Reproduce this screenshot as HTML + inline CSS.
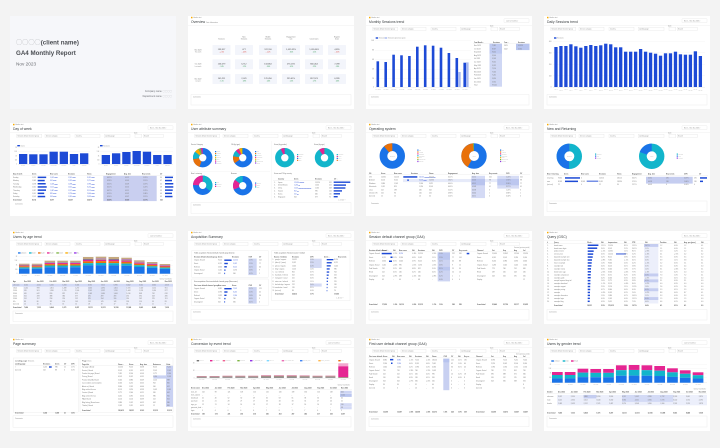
<!DOCTYPE html>
<html><head><meta charset="utf-8">
<style>
html,body{margin:0;padding:0;background:#f3f3f3;width:720px;height:448px;overflow:hidden}
svg{display:block}
text{font-family:"Liberation Sans","Noto Sans CJK JP",sans-serif}
.ti{font-size:3.4px;fill:#3c4043}
.s{font-size:1.6px;fill:#8b8b8b}
.v{font-size:1.6px;fill:#777}
.h{font-size:1.6px;fill:#555;font-weight:bold}
.b{fill:#3f5fd8}
.c{font-family:"Noto Sans CJK JP","Liberation Sans",sans-serif;fill:#b5b7bb;font-weight:normal}
</style></head><body>
<svg width="720" height="448" viewBox="0 0 720 448" xmlns="http://www.w3.org/2000/svg">
<defs>
<g id="fr">
<rect width="166" height="93" fill="#fff"/>
<rect x="3" y="0.8" width="1.5" height="1.5" fill="#f9ab00"/>
<rect x="0" y="9.2" width="166" height=".4" fill="#ebebeb"/>
</g>
<g id="db"><rect x="138" y="2.7" width="25" height="4" rx=".6" fill="#fff" stroke="#e3e3e3" stroke-width=".35"/></g>
<g id="fl" fill="none" stroke="#e2e2e2" stroke-width=".35">
<rect x="6.7" y="11.2" width="25" height="3.4"/>
<rect x="35" y="11.2" width="25" height="3.4"/>
<rect x="65" y="11.2" width="25" height="3.4"/>
<rect x="94.3" y="11.2" width="25.7" height="3.4"/>
<rect x="125" y="11.2" width="6.7" height="3.4"/>
<rect x="133.3" y="11.2" width="20" height="3.4"/>
</g>
<g id="cb"><rect x="3" y="78.5" width="160" height="10.5" fill="none" stroke="#e8e8e8" stroke-width=".4"/></g>
<g id="sbA">
<rect x="0" y="-1" width="1" height=".12" fill="#c5a97f"/>
<rect x="0" y="-.88" width="1" height=".03" fill="#9334e6"/>
<rect x="0" y="-.85" width="1" height=".03" fill="#7cb342"/>
<rect x="0" y="-.82" width="1" height=".08" fill="#e52592"/>
<rect x="0" y="-.74" width="1" height=".11" fill="#e8710a"/>
<rect x="0" y="-.63" width="1" height=".13" fill="#12b5cb"/>
<rect x="0" y="-.50" width="1" height=".50" fill="#1a73e8"/>
</g>
<g id="sbG">
<rect x="0" y="-1" width="1" height=".28" fill="#e52592"/>
<rect x="0" y="-.72" width="1" height=".32" fill="#12b5cb"/>
<rect x="0" y="-.40" width="1" height=".40" fill="#1a73e8"/>
</g>
<g id="sbC">
<rect x="0" y="-1" width="1" height=".3" fill="#d98aa8"/>
<rect x="0" y="-.7" width="1" height=".35" fill="#a1887f"/>
<rect x="0" y="-.35" width="1" height=".35" fill="#8d8d8d"/>
</g>
</defs>
<rect width="720" height="448" fill="#f3f3f3"/>

<!-- Card 1 -->
<g transform="translate(10,16)">
<rect width="166" height="93" fill="#f6f7fa"/>
<text x="6" y="28.3" style="font-size:6.2px;font-weight:bold;fill:#4a4d52"><tspan class="c">○○○○</tspan>(client name)</text>
<text x="6" y="39.2" style="font-size:6.2px;font-weight:bold;fill:#4a4d52">GA4 Monthly Report</text>
<text x="6" y="49.5" style="font-size:4.7px;fill:#6b6e73">Nov 2023</text>
<text x="162" y="76" text-anchor="end" style="font-size:2.4px;fill:#6b6e73">Company name <tspan class="c">○○○○</tspan></text>
<text x="162" y="81" text-anchor="end" style="font-size:2.4px;fill:#6b6e73">Department name <tspan class="c">○○○○</tspan></text>
</g>

<!-- Card 2 Overview -->
<g transform="translate(188,16)">
<use href="#fr"/><use href="#cb"/>
<text x="5.2" y="2.2" class="s">Header text</text>
<text x="3" y="6.8" class="ti">Overview <tspan style="font-size:1.6px;fill:#888">Data Information</tspan></text>
<g text-anchor="middle" class="h" style="font-weight:normal;fill:#555">
<text x="33.5" y="23.3" class="v">Sessions</text>
<text x="56" y="21.6" class="v">New<tspan x="56" dy="1.9">Sessions</tspan></text>
<text x="80" y="21.6" class="v">Mobile<tspan x="80" dy="1.9">Sessions</tspan></text>
<text x="103" y="21.6" class="v">Engagement<tspan x="103" dy="1.9">rate</tspan></text>
<text x="126" y="23.3" class="v">Conversions</text>
<text x="149" y="21.6" class="v">Register<tspan x="149" dy="1.9">Users</tspan></text>
</g>
<g fill="#f3f5fb">
<rect x="24.5" y="29" width="18" height="10" rx=".5"/><rect x="47" y="29" width="18" height="10" rx=".5"/><rect x="71" y="29" width="18" height="10" rx=".5"/><rect x="94" y="29" width="18" height="10" rx=".5"/><rect x="117" y="29" width="18" height="10" rx=".5"/><rect x="140" y="29" width="18" height="10" rx=".5"/>
<rect x="24.5" y="43.3" width="18" height="10" rx=".5"/><rect x="47" y="43.3" width="18" height="10" rx=".5"/><rect x="71" y="43.3" width="18" height="10" rx=".5"/><rect x="94" y="43.3" width="18" height="10" rx=".5"/><rect x="117" y="43.3" width="18" height="10" rx=".5"/><rect x="140" y="43.3" width="18" height="10" rx=".5"/>
<rect x="24.5" y="58" width="18" height="10" rx=".5"/><rect x="47" y="58" width="18" height="10" rx=".5"/><rect x="71" y="58" width="18" height="10" rx=".5"/><rect x="94" y="58" width="18" height="10" rx=".5"/><rect x="117" y="58" width="18" height="10" rx=".5"/><rect x="140" y="58" width="18" height="10" rx=".5"/>
</g>
<g text-anchor="middle" style="font-size:2.1px;fill:#444">
<text y="34.2"><tspan x="33.5">133,817</tspan><tspan x="56">477</tspan><tspan x="80">122,116</tspan><tspan x="103">1,455.32%</tspan><tspan x="126">1,055,863</tspan><tspan x="149">4,855</tspan></text>
<text y="48.5"><tspan x="33.5">156,679</tspan><tspan x="56">6,712</tspan><tspan x="80">134,862</tspan><tspan x="103">276.13%</tspan><tspan x="126">800,464</tspan><tspan x="149">7,098</tspan></text>
<text y="63.2"><tspan x="33.5">145,211</tspan><tspan x="56">2,076</tspan><tspan x="80">176,450</tspan><tspan x="103">235.61%</tspan><tspan x="126">897,523</tspan><tspan x="149">6,289</tspan></text>
</g>
<g text-anchor="middle" style="font-size:1.4px">
<text y="36.6" fill="#d93025"><tspan x="33.5">↓ -2.1%</tspan><tspan x="56">↓ -4.8%</tspan><tspan x="80">↓ -1.2%</tspan><tspan x="103" fill="#1e8e3e">↑ 8.2%</tspan><tspan x="126" fill="#1e8e3e">↑ 5.1%</tspan><tspan x="149">↓ -3.3%</tspan></text>
<text y="50.9" fill="#1e8e3e"><tspan x="33.5">↑ 2.4%</tspan><tspan x="56">↑ 1.2%</tspan><tspan x="80">↑ 3.0%</tspan><tspan x="103">↑ 4.1%</tspan><tspan x="126">↑ 2.2%</tspan><tspan x="149">↑ 1.8%</tspan></text>
<text y="65.6" fill="#1e8e3e"><tspan x="33.5">↑ 1.1%</tspan><tspan x="56">↑ 0.9%</tspan><tspan x="80">↑ 2.6%</tspan><tspan x="103">↑ 1.5%</tspan><tspan x="126">↑ 1.7%</tspan><tspan x="149">↑ 0.6%</tspan></text>
</g>
<g text-anchor="middle">
<text x="10" y="34.4" class="v">Nov 2023</text><text x="10" y="36.5" class="s" style="font-size:1.3px">This month</text>
<text x="10" y="48.7" class="v">Oct 2023</text><text x="10" y="50.8" class="s" style="font-size:1.3px">Last month</text>
<text x="10" y="63.4" class="v">Nov 2022</text><text x="10" y="65.5" class="s" style="font-size:1.3px">Last year</text>
</g>
<text x="5" y="81.3" class="s">Comments</text>
</g>

<!-- Card 3 Monthly sessions trend -->
<g transform="translate(366,16)">
<use href="#fr"/><use href="#db"/><use href="#fl"/><use href="#cb"/>
<text x="5.2" y="2.2" class="s">Header text</text>
<text x="3" y="6.8" class="ti">Monthly Sessions trend</text>
<text x="140" y="5.3" class="s">Last 12 months ▾</text>
<text y="13.4" class="s"><tspan x="7.5">Session default channel group</tspan><tspan x="36">Device category</tspan><tspan x="66">Country</tspan><tspan x="95">Landing page</tspan><tspan x="134">Search</tspan></text>
<text x="124" y="10.6" class="s">Date</text>
<rect x="9.7" y="21.3" width="2.4" height="1.4" fill="#1d4ad6"/><text x="12.8" y="22.6" class="s">Sessions</text>
<rect x="18.7" y="21.3" width="2.4" height="1.4" fill="#a9b9ef"/><text x="21.8" y="22.6" class="s">Sessions (previous year)</text>
<g fill="#eeeeee"><rect x="9" y="24.5" width="96" height=".3"/><rect x="9" y="34" width="96" height=".3"/><rect x="9" y="43.5" width="96" height=".3"/><rect x="9" y="53" width="96" height=".3"/><rect x="9" y="62.5" width="96" height=".3"/><rect x="9" y="71" width="96" height=".35" fill="#dddddd"/></g>
<g text-anchor="end" class="s"><text x="8" y="25.1">10K</text><text x="8" y="34.6">8K</text><text x="8" y="44.1">6K</text><text x="8" y="53.6">4K</text><text x="8" y="63.1">2K</text><text x="8" y="71.6">0</text></g>
<g fill="#1d4ad6">
<rect x="10.5" y="45.3" width="2.6" height="25.7"/><rect x="18.4" y="46" width="2.6" height="25"/><rect x="26.3" y="38.7" width="2.6" height="32.3"/><rect x="34.2" y="39.3" width="2.6" height="31.7"/><rect x="42.1" y="40" width="2.6" height="31"/><rect x="50" y="30.7" width="2.6" height="40.3"/><rect x="57.9" y="29.3" width="2.6" height="41.7"/><rect x="65.8" y="29.7" width="2.6" height="41.3"/><rect x="73.7" y="31.7" width="2.6" height="39.3"/><rect x="81.6" y="37" width="2.6" height="34"/><rect x="89.5" y="42" width="2.6" height="29"/><rect x="97.4" y="46.7" width="2.6" height="24.3"/>
</g>
<rect x="92.1" y="56" width="2.6" height="15" fill="#a9b9ef"/><rect x="100" y="46.4" width="2.6" height="24.6" fill="#a9b9ef"/>
<text y="73.6" text-anchor="middle" class="s" style="font-size:1.2px"><tspan x="12">Dec 2022</tspan><tspan x="19.9">Jan 2023</tspan><tspan x="27.8">Feb 2023</tspan><tspan x="35.7">Mar 2023</tspan><tspan x="43.6">Apr 2023</tspan><tspan x="51.5">May 2023</tspan><tspan x="59.4">Jun 2023</tspan><tspan x="67.3">Jul 2023</tspan><tspan x="75.2">Aug 2023</tspan><tspan x="83.1">Sep 2023</tspan><tspan x="91">Oct 2023</tspan><tspan x="98.9">Nov 2023</tspan></text>
<rect x="123.5" y="27.7" width="12.5" height="43" fill="#cfd7f4"/>
<rect x="123.5" y="27.7" width="12.5" height="9.9" fill="#bfcaf1"/>
<rect x="107" y="27.4" width="29" height=".25" fill="#dddddd"/>
<text y="26.8" class="h"><tspan x="108">Year Month ↓</tspan><tspan x="127">Sessions</tspan></text>
<g class="v">
<text x="108" y="30"><tspan>Nov 2023</tspan><tspan x="126">7,381</tspan></text>
<text x="108" y="33.3"><tspan>Oct 2023</tspan><tspan x="126">8,927</tspan></text>
<text x="108" y="36.6"><tspan>Sep 2023</tspan><tspan x="126">9,612</tspan></text>
<text x="108" y="39.9"><tspan>Aug 2023</tspan><tspan x="126">9,140</tspan></text>
<text x="108" y="43.2"><tspan>Jul 2023</tspan><tspan x="126">9,903</tspan></text>
<text x="108" y="46.5"><tspan>Jun 2023</tspan><tspan x="126">9,551</tspan></text>
<text x="108" y="49.8"><tspan>May 2023</tspan><tspan x="126">9,312</tspan></text>
<text x="108" y="53.1"><tspan>Apr 2023</tspan><tspan x="126">7,150</tspan></text>
<text x="108" y="56.4"><tspan>Mar 2023</tspan><tspan x="126">7,302</tspan></text>
<text x="108" y="59.7"><tspan>Feb 2023</tspan><tspan x="126">7,241</tspan></text>
<text x="108" y="63"><tspan>Jan 2023</tspan><tspan x="126">5,810</tspan></text>
<text x="108" y="66.3"><tspan>Dec 2022</tspan><tspan x="126">5,912</tspan></text>
<text x="108" y="69.6"><tspan>Total</tspan><tspan x="126">97,241</tspan></text>
</g>
<rect x="150" y="27.7" width="13.5" height="6.4" fill="#b8c5ef"/>
<rect x="138" y="27.4" width="25.5" height=".25" fill="#dddddd"/>
<text y="26.8" class="h"><tspan x="138">Year ↓</tspan><tspan x="152">Sessions</tspan></text>
<text y="30" class="v"><tspan x="138">2023</tspan><tspan x="152">91,329</tspan></text>
<text y="33.3" class="v"><tspan x="138">2022</tspan><tspan x="152">5,912</tspan></text>
<text x="5" y="81.3" class="s">Comments</text>
</g>

<!-- Card 4 Daily sessions trend -->
<g transform="translate(544,16)">
<use href="#fr"/><use href="#db"/><use href="#fl"/><use href="#cb"/>
<text x="5.2" y="2.2" class="s">Header text</text>
<text x="3" y="6.8" class="ti">Daily Sessions trend</text>
<text x="140" y="5.3" class="s">Nov 1 - Nov 30, 2023 ▾</text>
<text y="13.4" class="s"><tspan x="7.5">Session default channel group</tspan><tspan x="36">Device category</tspan><tspan x="66">Country</tspan><tspan x="95">Landing page</tspan><tspan x="134">Search</tspan></text>
<text x="124" y="10.6" class="s">Date</text>
<rect x="10" y="21.3" width="2.4" height="1.4" fill="#1d4ad6"/><text x="13.1" y="22.6" class="s">Sessions</text>
<g fill="#eeeeee"><rect x="9" y="25.3" width="152" height=".3"/><rect x="9" y="36.7" width="152" height=".3"/><rect x="9" y="48.2" width="152" height=".3"/><rect x="9" y="59.7" width="152" height=".3"/><rect x="9" y="71" width="152" height=".35" fill="#dddddd"/></g>
<g text-anchor="end" class="s"><text x="7.5" y="25.9">400</text><text x="7.5" y="37.3">300</text><text x="7.5" y="48.8">200</text><text x="7.5" y="60.3">100</text><text x="7.5" y="71.6">0</text></g>
<g fill="#1d4ad6">
<rect x="10.3" y="31" width="3.3" height="40"/><rect x="15.28" y="30" width="3.3" height="41"/><rect x="20.26" y="30" width="3.3" height="41"/><rect x="25.24" y="28.3" width="3.3" height="42.7"/><rect x="30.22" y="30.3" width="3.3" height="40.7"/><rect x="35.2" y="31.7" width="3.3" height="39.3"/><rect x="40.18" y="30" width="3.3" height="41"/><rect x="45.16" y="29" width="3.3" height="42"/><rect x="50.14" y="30" width="3.3" height="41"/><rect x="55.12" y="29.3" width="3.3" height="41.7"/><rect x="60.1" y="27.7" width="3.3" height="43.3"/><rect x="65.08" y="28.3" width="3.3" height="42.7"/><rect x="70.06" y="31.3" width="3.3" height="39.7"/><rect x="75.04" y="31.3" width="3.3" height="39.7"/><rect x="80.02" y="35.7" width="3.3" height="35.3"/><rect x="85" y="35.7" width="3.3" height="35.3"/><rect x="89.98" y="35.7" width="3.3" height="35.3"/><rect x="94.96" y="33" width="3.3" height="38"/><rect x="99.94" y="35.7" width="3.3" height="35.3"/><rect x="104.92" y="36.7" width="3.3" height="34.3"/><rect x="109.9" y="37.7" width="3.3" height="33.3"/><rect x="114.88" y="39.7" width="3.3" height="31.3"/><rect x="119.86" y="37.3" width="3.3" height="33.7"/><rect x="124.84" y="37.3" width="3.3" height="33.7"/><rect x="129.82" y="35.7" width="3.3" height="35.3"/><rect x="134.8" y="38.3" width="3.3" height="32.7"/><rect x="139.78" y="38.7" width="3.3" height="32.3"/><rect x="144.76" y="38.7" width="3.3" height="32.3"/><rect x="149.74" y="35.3" width="3.3" height="35.7"/><rect x="154.72" y="40" width="3.3" height="31"/>
</g>
<text y="73.4" text-anchor="middle" class="s" style="font-size:1.2px"><tspan x="12">Nov 1</tspan><tspan x="21.9">Nov 3</tspan><tspan x="31.9">Nov 5</tspan><tspan x="41.8">Nov 7</tspan><tspan x="51.8">Nov 9</tspan><tspan x="61.8">Nov 11</tspan><tspan x="71.7">Nov 13</tspan><tspan x="81.7">Nov 15</tspan><tspan x="91.6">Nov 17</tspan><tspan x="101.6">Nov 19</tspan><tspan x="111.6">Nov 21</tspan><tspan x="121.5">Nov 23</tspan><tspan x="131.5">Nov 25</tspan><tspan x="141.4">Nov 27</tspan><tspan x="151.4">Nov 29</tspan></text>
<text y="75.1" text-anchor="middle" class="s" style="font-size:1.2px"><tspan x="16.9">Nov 2</tspan><tspan x="26.9">Nov 4</tspan><tspan x="36.9">Nov 6</tspan><tspan x="46.8">Nov 8</tspan><tspan x="56.8">Nov 10</tspan><tspan x="66.7">Nov 12</tspan><tspan x="76.7">Nov 14</tspan><tspan x="86.7">Nov 16</tspan><tspan x="96.6">Nov 18</tspan><tspan x="106.6">Nov 20</tspan><tspan x="116.5">Nov 22</tspan><tspan x="126.5">Nov 24</tspan><tspan x="136.5">Nov 26</tspan><tspan x="146.4">Nov 28</tspan><tspan x="156.4">Nov 30</tspan></text>
<text x="5" y="81.3" class="s">Comments</text>
</g>

<!-- Card 5 Day of week -->
<g transform="translate(10,123)">
<use href="#fr"/><use href="#db"/><use href="#fl"/>
<text x="5.2" y="2.2" class="s">Header text</text>
<text x="3" y="6.8" class="ti">Day of week</text>
<text x="140" y="5.3" class="s">Nov 1 - Nov 30, 2023 ▾</text>
<text y="13.4" class="s"><tspan x="7.5">Session default channel group</tspan><tspan x="36">Device category</tspan><tspan x="66">Country</tspan><tspan x="95">Landing page</tspan><tspan x="134">Search</tspan></text>
<text x="124" y="10.6" class="s">Date</text>
<rect x="7.3" y="22" width="2.6" height="1.4" fill="#1d4ad6"/><text x="10.5" y="23.3" class="s">Users</text>
<rect x="90" y="22" width="2.6" height="1.4" fill="#1d4ad6"/><text x="93.2" y="23.3" class="s">Sessions</text>
<g fill="#eeeeee"><rect x="8" y="24.5" width="72" height=".3"/><rect x="8" y="28.7" width="72" height=".3"/><rect x="8" y="32.8" width="72" height=".3"/><rect x="8" y="37" width="72" height=".3"/><rect x="8" y="41" width="72" height=".35" fill="#dddddd"/>
<rect x="90" y="24.5" width="73" height=".3"/><rect x="90" y="28.7" width="73" height=".3"/><rect x="90" y="32.8" width="73" height=".3"/><rect x="90" y="37" width="73" height=".3"/><rect x="90" y="41" width="73" height=".35" fill="#dddddd"/></g>
<g text-anchor="end" class="s" style="font-size:1.3px"><text x="7" y="25">2K</text><text x="7" y="29.2">1.5K</text><text x="7" y="33.3">1K</text><text x="7" y="37.5">500</text><text x="7" y="41.5">0</text>
<text x="89.3" y="25">2K</text><text x="89.3" y="29.2">1.5K</text><text x="89.3" y="33.3">1K</text><text x="89.3" y="37.5">500</text><text x="89.3" y="41.5">0</text></g>
<g fill="#1d4ad6">
<rect x="9" y="31" width="8.3" height="10"/><rect x="19.17" y="31.3" width="8.3" height="9.7"/><rect x="29.34" y="31.3" width="8.3" height="9.7"/><rect x="39.51" y="28.7" width="8.3" height="12.3"/><rect x="49.68" y="28.7" width="8.3" height="12.3"/><rect x="59.85" y="31" width="8.3" height="10"/><rect x="70.02" y="30.3" width="8.3" height="10.7"/>
<rect x="91.7" y="32" width="8.3" height="9"/><rect x="101.98" y="30.3" width="8.3" height="10.7"/><rect x="112.26" y="29" width="8.3" height="12"/><rect x="122.54" y="28" width="8.3" height="13"/><rect x="132.82" y="28.7" width="8.3" height="12.3"/><rect x="143.1" y="32" width="8.3" height="9"/><rect x="153.38" y="32" width="8.3" height="9"/>
</g>
<text y="43.2" text-anchor="middle" class="s" style="font-size:1.2px"><tspan x="13.15">Sunday</tspan><tspan x="23.32">Monday</tspan><tspan x="33.49">Tuesday</tspan><tspan x="43.66">Wednesday</tspan><tspan x="53.83">Thursday</tspan><tspan x="64">Friday</tspan><tspan x="74.17">Saturday</tspan><tspan x="95.85">Sunday</tspan><tspan x="106.13">Monday</tspan><tspan x="116.41">Tuesday</tspan><tspan x="126.69">Wednesday</tspan><tspan x="136.97">Thursday</tspan><tspan x="147.25">Friday</tspan><tspan x="157.53">Saturday</tspan></text>
<rect x="93.3" y="52.9" width="53.4" height="25.2" fill="#c9cff0"/>
<rect x="2" y="52" width="162" height=".25" fill="#dddddd"/>
<text y="51.3" class="h"><tspan x="3">Day of week</tspan><tspan x="22">Users</tspan><tspan x="40">New users</tspan><tspan x="58">Sessions</tspan><tspan x="77">Views</tspan><tspan x="96">Engagement</tspan><tspan x="114">Avg. time</tspan><tspan x="132">Key events</tspan><tspan x="150">CV</tspan></text>
<g fill="#1d4ad6">
<rect x="27.7" y="53.6" width="8.5" height="1.5"/><rect x="27.7" y="56.8" width="7" height="1.5"/><rect x="27.7" y="60" width="8" height="1.5"/><rect x="27.7" y="63.2" width="9" height="1.5"/><rect x="27.7" y="66.4" width="8.3" height="1.5"/><rect x="27.7" y="69.6" width="6.5" height="1.5"/><rect x="27.7" y="72.8" width="7.5" height="1.5"/>
<rect x="155" y="53.6" width="8" height="1.5"/><rect x="155" y="56.8" width="7" height="1.5"/><rect x="155" y="60" width="8.3" height="1.5"/><rect x="155" y="63.2" width="8.3" height="1.5"/><rect x="155" y="66.4" width="7.7" height="1.5"/><rect x="155" y="69.6" width="7" height="1.5"/><rect x="155" y="72.8" width="7.5" height="1.5"/>
</g>
<g class="v">
<text y="55"><tspan x="3">Sunday</tspan><tspan x="22">1,212</tspan><tspan x="40" class="b">1,012 ▬▬</tspan><tspan x="58" class="b">1,531 ▬▬</tspan><tspan x="77" class="b">3,021 ▬▬</tspan><tspan x="97">64.2%</tspan><tspan x="115">01:12</tspan><tspan x="133">1.21%</tspan><tspan x="150">54</tspan></text>
<text y="58.2"><tspan x="3">Monday</tspan><tspan x="22">1,043</tspan><tspan x="40" class="b">901 ▬▬</tspan><tspan x="58" class="b">1,322 ▬▬</tspan><tspan x="77" class="b">2,711 ▬▬</tspan><tspan x="97">62.8%</tspan><tspan x="115">01:05</tspan><tspan x="133">1.15%</tspan><tspan x="150">47</tspan></text>
<text y="61.4"><tspan x="3">Tuesday</tspan><tspan x="22">1,198</tspan><tspan x="40" class="b">1,003 ▬▬</tspan><tspan x="58" class="b">1,498 ▬▬</tspan><tspan x="77" class="b">2,996 ▬▬</tspan><tspan x="97">63.5%</tspan><tspan x="115">01:09</tspan><tspan x="133">1.19%</tspan><tspan x="150">55</tspan></text>
<text y="64.6"><tspan x="3">Wednesday</tspan><tspan x="22">1,321</tspan><tspan x="40" class="b">1,121 ▬▬</tspan><tspan x="58" class="b">1,612 ▬▬</tspan><tspan x="77" class="b">3,210 ▬▬</tspan><tspan x="97">65.1%</tspan><tspan x="115">01:15</tspan><tspan x="133">1.25%</tspan><tspan x="150">58</tspan></text>
<text y="67.8"><tspan x="3">Thursday</tspan><tspan x="22">1,287</tspan><tspan x="40" class="b">1,087 ▬▬</tspan><tspan x="58" class="b">1,577 ▬▬</tspan><tspan x="77" class="b">3,115 ▬▬</tspan><tspan x="97">64.7%</tspan><tspan x="115">01:11</tspan><tspan x="133">1.22%</tspan><tspan x="150">53</tspan></text>
<text y="71"><tspan x="3">Friday</tspan><tspan x="22">1,011</tspan><tspan x="40" class="b">899 ▬▬</tspan><tspan x="58" class="b">1,276 ▬▬</tspan><tspan x="77" class="b">2,604 ▬▬</tspan><tspan x="97">61.9%</tspan><tspan x="115">01:02</tspan><tspan x="133">1.08%</tspan><tspan x="150">46</tspan></text>
<text y="74.2"><tspan x="3">Saturday</tspan><tspan x="22">1,102</tspan><tspan x="40" class="b">954 ▬▬</tspan><tspan x="58" class="b">1,391 ▬▬</tspan><tspan x="77" class="b">2,813 ▬▬</tspan><tspan x="97">62.4%</tspan><tspan x="115">01:07</tspan><tspan x="133">1.12%</tspan><tspan x="150">49</tspan></text>
<text y="77.4" class="h"><tspan x="3">Grand total</tspan><tspan x="22">8,174</tspan><tspan x="40">6,977</tspan><tspan x="58">10,207</tspan><tspan x="77">20,470</tspan><tspan x="97">63.5%</tspan><tspan x="115">01:09</tspan><tspan x="133">1.17%</tspan><tspan x="150">362</tspan></text>
</g>
<text x="5" y="81.5" class="s">Comments</text>
</g>

<!-- Card 6 User attribute summary -->
<g transform="translate(188,123)">
<use href="#fr"/><use href="#db"/><use href="#fl"/>
<rect x="3" y="79.5" width="160" height="11" fill="none" stroke="#e8e8e8" stroke-width=".4"/>
<text x="5.2" y="2.2" class="s">Header text</text>
<text x="3" y="6.8" class="ti">User attribute summary</text>
<text x="140" y="5.3" class="s">Nov 1 - Nov 30, 2023 ▾</text>
<text y="13.4" class="s"><tspan x="7.5">Session default channel group</tspan><tspan x="36">Device category</tspan><tspan x="66">Country</tspan><tspan x="95">Landing page</tspan><tspan x="134">Search</tspan></text>
<text x="124" y="10.6" class="s">Date</text>
<rect x="83" y="18" width=".3" height="59" fill="#ececec"/>
<rect x="2" y="48.5" width="80" height=".3" fill="#ececec"/>
<text y="22" class="h" style="font-weight:normal;fill:#666"><tspan x="3">Device Category</tspan><tspan x="43">OS (by type)</tspan><tspan x="86">Users (by gender)</tspan><tspan x="126">Users (by age)</tspan></text>
<text y="51" class="h" style="font-weight:normal;fill:#666"><tspan x="3">New / returning</tspan><tspan x="43">Browser</tspan><tspan x="86">Users and CV by country</tspan></text>
<g fill="none" stroke-width="6">
<g transform="rotate(-90 14.7 34.7)">
<circle cx="14.7" cy="34.7" r="6.7" stroke="#1a73e8"/>
<circle cx="14.7" cy="34.7" r="6.7" stroke="#e8710a" stroke-dasharray="7.16 50" stroke-dashoffset="-23.16"/>
<circle cx="14.7" cy="34.7" r="6.7" stroke="#12b5cb" stroke-dasharray="5.47 50" stroke-dashoffset="-30.32"/>
<circle cx="14.7" cy="34.7" r="6.7" stroke="#f9ab00" stroke-dasharray="2.95 50" stroke-dashoffset="-35.79"/>
<circle cx="14.7" cy="34.7" r="6.7" stroke="#7cb342" stroke-dasharray="1.68 50" stroke-dashoffset="-38.74"/>
<circle cx="14.7" cy="34.7" r="6.7" stroke="#e52592" stroke-dasharray="1.68 50" stroke-dashoffset="-40.42"/>
</g>
<g transform="rotate(-90 54.7 34.7)">
<circle cx="54.7" cy="34.7" r="6.7" stroke="#1a73e8"/>
<circle cx="54.7" cy="34.7" r="6.7" stroke="#e8710a" stroke-dasharray="5.05 50" stroke-dashoffset="-27.37"/>
<circle cx="54.7" cy="34.7" r="6.7" stroke="#12b5cb" stroke-dasharray="4.21 50" stroke-dashoffset="-32.42"/>
<circle cx="54.7" cy="34.7" r="6.7" stroke="#e52592" stroke-dasharray="2.53 50" stroke-dashoffset="-36.63"/>
<circle cx="54.7" cy="34.7" r="6.7" stroke="#f9ab00" stroke-dasharray="2.1 50" stroke-dashoffset="-39.16"/>
<circle cx="54.7" cy="34.7" r="6.7" stroke="#7cb342" stroke-dasharray="0.84 50" stroke-dashoffset="-41.26"/>
</g>
<g transform="rotate(-90 96.8 34.7)">
<circle cx="96.8" cy="34.7" r="6.7" stroke="#12b5cb"/>
<circle cx="96.8" cy="34.7" r="6.7" stroke="#e52592" stroke-dasharray="2.9 50" stroke-dashoffset="-38.8"/>
<circle cx="96.8" cy="34.7" r="6.7" stroke="#1a73e8" stroke-dasharray=".42 50" stroke-dashoffset="-41.68"/>
</g>
<g transform="rotate(-90 136.5 34.7)">
<circle cx="136.5" cy="34.7" r="6.7" stroke="#12b5cb"/>
<circle cx="136.5" cy="34.7" r="6.7" stroke="#e52592" stroke-dasharray="3.8 50" stroke-dashoffset="-37.9"/>
<circle cx="136.5" cy="34.7" r="6.7" stroke="#e8710a" stroke-dasharray=".4 50" stroke-dashoffset="-41.7"/>
</g>
<g transform="rotate(-90 14.7 62.3)">
<circle cx="14.7" cy="62.3" r="6.7" stroke="#1a73e8"/>
<circle cx="14.7" cy="62.3" r="6.7" stroke="#12b5cb" stroke-dasharray="14.74 50" stroke-dashoffset="0"/>
<circle cx="14.7" cy="62.3" r="6.7" stroke="#e52592" stroke-dasharray="10.53 50" stroke-dashoffset="-31.58"/>
</g>
<g transform="rotate(-90 54.7 62.7)">
<circle cx="54.7" cy="62.7" r="6.7" stroke="#1a73e8"/>
<circle cx="54.7" cy="62.7" r="6.7" stroke="#e52592" stroke-dasharray="7.16 50" stroke-dashoffset="-28.63"/>
<circle cx="54.7" cy="62.7" r="6.7" stroke="#12b5cb" stroke-dasharray="6.32 50" stroke-dashoffset="-35.79"/>
</g>
</g>
<g>
<rect x="27" y="28" width="1.2" height="1.2" fill="#1a73e8"/><rect x="27" y="29.9" width="1.2" height="1.2" fill="#e8710a"/><rect x="27" y="31.8" width="1.2" height="1.2" fill="#12b5cb"/><rect x="27" y="33.7" width="1.2" height="1.2" fill="#f9ab00"/><rect x="27" y="35.6" width="1.2" height="1.2" fill="#7cb342"/><rect x="27" y="37.5" width="1.2" height="1.2" fill="#e52592"/><rect x="27" y="39.4" width="1.2" height="1.2" fill="#9334e6"/>
<rect x="67" y="28" width="1.2" height="1.2" fill="#1a73e8"/><rect x="67" y="29.9" width="1.2" height="1.2" fill="#e8710a"/><rect x="67" y="31.8" width="1.2" height="1.2" fill="#12b5cb"/><rect x="67" y="33.7" width="1.2" height="1.2" fill="#e52592"/><rect x="67" y="35.6" width="1.2" height="1.2" fill="#f9ab00"/><rect x="67" y="37.5" width="1.2" height="1.2" fill="#7cb342"/><rect x="67" y="39.4" width="1.2" height="1.2" fill="#9334e6"/>
<rect x="109" y="31" width="1.2" height="1.2" fill="#12b5cb"/><rect x="109" y="32.9" width="1.2" height="1.2" fill="#e52592"/><rect x="109" y="34.8" width="1.2" height="1.2" fill="#1a73e8"/><rect x="109" y="36.7" width="1.2" height="1.2" fill="#e8710a"/>
<rect x="148.7" y="31" width="1.2" height="1.2" fill="#12b5cb"/><rect x="148.7" y="32.9" width="1.2" height="1.2" fill="#e52592"/><rect x="148.7" y="34.8" width="1.2" height="1.2" fill="#1a73e8"/><rect x="148.7" y="36.7" width="1.2" height="1.2" fill="#e8710a"/>
<rect x="27" y="59" width="1.2" height="1.2" fill="#12b5cb"/><rect x="27" y="60.9" width="1.2" height="1.2" fill="#1a73e8"/><rect x="27" y="62.8" width="1.2" height="1.2" fill="#e52592"/>
<rect x="67" y="59.5" width="1.2" height="1.2" fill="#1a73e8"/><rect x="67" y="61.4" width="1.2" height="1.2" fill="#e52592"/><rect x="67" y="63.3" width="1.2" height="1.2" fill="#12b5cb"/>
</g>
<g class="s" style="font-size:1.2px">
<text x="28.7" y="29.1">mobile<tspan x="28.7" dy="1.9">desktop</tspan><tspan x="28.7" dy="1.9">tablet</tspan><tspan x="28.7" dy="1.9">smart tv</tspan><tspan x="28.7" dy="1.9">other</tspan><tspan x="28.7" dy="1.9">console</tspan><tspan x="28.7" dy="1.9">unknown</tspan></text>
<text x="68.7" y="29.1">iOS<tspan x="68.7" dy="1.9">Android</tspan><tspan x="68.7" dy="1.9">Windows</tspan><tspan x="68.7" dy="1.9">Macintosh</tspan><tspan x="68.7" dy="1.9">Linux</tspan><tspan x="68.7" dy="1.9">Chrome OS</tspan><tspan x="68.7" dy="1.9">others</tspan></text>
<text x="110.7" y="32.1">unknown<tspan x="110.7" dy="1.9">female</tspan><tspan x="110.7" dy="1.9">male</tspan><tspan x="110.7" dy="1.9">other</tspan></text>
<text x="150.4" y="32.1">unknown<tspan x="150.4" dy="1.9">25-34</tspan><tspan x="150.4" dy="1.9">35-44</tspan><tspan x="150.4" dy="1.9">18-24</tspan></text>
<text x="28.7" y="60.1">new<tspan x="28.7" dy="1.9">returning</tspan><tspan x="28.7" dy="1.9">(not set)</tspan></text>
<text x="68.7" y="60.6">Chrome<tspan x="68.7" dy="1.9">Safari</tspan><tspan x="68.7" dy="1.9">Edge</tspan></text>
</g>
<rect x="85" y="57" width="78" height=".25" fill="#dddddd"/>
<text y="56.5" class="h"><tspan x="90">Country</tspan><tspan x="106">Users</tspan><tspan x="127">Sessions</tspan><tspan x="146">CV ↓</tspan></text>
<g fill="#1d4ad6"><rect x="145.7" y="58.5" width="16.6" height="1.4"/><rect x="145.7" y="61.4" width="12.3" height="1.4"/><rect x="145.7" y="64.3" width="11.7" height="1.4"/><rect x="145.7" y="67.2" width="8.3" height="1.4"/><rect x="145.7" y="70.1" width="6.3" height="1.4"/><rect x="145.7" y="73" width="4" height="1.4"/></g>
<g class="v">
<text y="59.8"><tspan x="86">1.</tspan><tspan x="90">Japan</tspan><tspan x="106" class="b">12,034 ▬▬▬</tspan><tspan x="127">15,320</tspan><tspan x="141">312</tspan></text>
<text y="62.7"><tspan x="86">2.</tspan><tspan x="90">United States</tspan><tspan x="106" class="b">1,254 ▬</tspan><tspan x="127">1,610</tspan><tspan x="141">221</tspan></text>
<text y="65.6"><tspan x="86">3.</tspan><tspan x="90">China</tspan><tspan x="106" class="b">1,102 ▬▬▬▬▬▬▬▬</tspan><tspan x="127">1,355</tspan><tspan x="141">208</tspan></text>
<text y="68.5"><tspan x="86">4.</tspan><tspan x="90">Taiwan</tspan><tspan x="106" class="b">812 ▬</tspan><tspan x="127">990</tspan><tspan x="141">151</tspan></text>
<text y="71.4"><tspan x="86">5.</tspan><tspan x="90">Korea</tspan><tspan x="106" class="b">511 ▬</tspan><tspan x="127">640</tspan><tspan x="141">116</tspan></text>
<text y="74.3"><tspan x="86">6.</tspan><tspan x="90">Singapore</tspan><tspan x="106">302</tspan><tspan x="127">377</tspan><tspan x="141">72</tspan></text>
</g>
<text x="150" y="77.4" class="s" style="font-size:1.3px">1 - 6 / 120 ‹ ›</text>
<text x="5" y="82.3" class="s">Comments</text>
</g>

<!-- Card 7 Operating system -->
<g transform="translate(366,123)">
<use href="#fr"/><use href="#db"/><use href="#fl"/>
<text x="5.2" y="2.2" class="s">Header text</text>
<text x="3" y="6.8" class="ti">Operating system</text>
<text x="140" y="5.3" class="s">Nov 1 - Nov 30, 2023 ▾</text>
<text y="13.4" class="s"><tspan x="7.5">Session default channel group</tspan><tspan x="36">Device category</tspan><tspan x="66">Country</tspan><tspan x="95">Landing page</tspan><tspan x="134">Search</tspan></text>
<text x="124" y="10.6" class="s">Date</text>
<g fill="none" stroke-width="7.7">
<g transform="rotate(-90 26.3 33)">
<circle cx="26.3" cy="33" r="8.85" stroke="#1a73e8"/>
<circle cx="26.3" cy="33" r="8.85" stroke="#e8710a" stroke-dasharray="6.67 60" stroke-dashoffset="-48.94"/>
</g>
<g transform="rotate(-90 108 33)">
<circle cx="108" cy="33" r="8.85" stroke="#1a73e8"/>
<circle cx="108" cy="33" r="8.85" stroke="#e8710a" stroke-dasharray="22.24 60" stroke-dashoffset="-32.25"/>
<circle cx="108" cy="33" r="8.85" stroke="#7cb342" stroke-dasharray="1.1 60" stroke-dashoffset="-54.5"/>
</g>
</g>
<text y="33.5" text-anchor="middle" class="s" style="font-size:1.2px"><tspan x="26.3">Sessions</tspan><tspan x="108">Users</tspan></text>
<g>
<rect x="51.3" y="26.5" width="1.2" height="1.2" fill="#1a73e8"/><rect x="51.3" y="28.4" width="1.2" height="1.2" fill="#e8710a"/><rect x="51.3" y="30.3" width="1.2" height="1.2" fill="#e52592"/><rect x="51.3" y="32.2" width="1.2" height="1.2" fill="#12b5cb"/><rect x="51.3" y="34.1" width="1.2" height="1.2" fill="#f9ab00"/><rect x="51.3" y="36" width="1.2" height="1.2" fill="#7cb342"/><rect x="51.3" y="37.9" width="1.2" height="1.2" fill="#9334e6"/>
<rect x="134" y="26.5" width="1.2" height="1.2" fill="#1a73e8"/><rect x="134" y="28.4" width="1.2" height="1.2" fill="#e8710a"/><rect x="134" y="30.3" width="1.2" height="1.2" fill="#e52592"/><rect x="134" y="32.2" width="1.2" height="1.2" fill="#12b5cb"/><rect x="134" y="34.1" width="1.2" height="1.2" fill="#f9ab00"/><rect x="134" y="36" width="1.2" height="1.2" fill="#7cb342"/><rect x="134" y="37.9" width="1.2" height="1.2" fill="#9334e6"/>
</g>
<g class="s" style="font-size:1.2px">
<text x="53" y="27.6">iOS<tspan x="53" dy="1.9">Android</tspan><tspan x="53" dy="1.9">Windows</tspan><tspan x="53" dy="1.9">Macintosh</tspan><tspan x="53" dy="1.9">Linux</tspan><tspan x="53" dy="1.9">Chrome OS</tspan><tspan x="53" dy="1.9">(not set)</tspan></text>
<text x="135.7" y="27.6">iOS<tspan x="135.7" dy="1.9">Android</tspan><tspan x="135.7" dy="1.9">Windows</tspan><tspan x="135.7" dy="1.9">Macintosh</tspan><tspan x="135.7" dy="1.9">Linux</tspan><tspan x="135.7" dy="1.9">Chrome OS</tspan><tspan x="135.7" dy="1.9">(not set)</tspan></text>
</g>
<rect x="37" y="56" width="116" height="3.1" fill="#e6eaf9"/>
<rect x="105.3" y="52.8" width="13.7" height="22.3" fill="#d4daf5"/>
<rect x="105.3" y="56" width="13.7" height="6.3" fill="#b9c4ee"/>
<rect x="131.3" y="52.8" width="21.7" height="12.8" fill="#d6dcf5"/>
<rect x="131.3" y="56" width="21.7" height="6.3" fill="#bcc7ef"/>
<rect x="2" y="51.6" width="162" height=".25" fill="#dddddd"/>
<text y="50.9" class="h"><tspan x="3">OS</tspan><tspan x="15">Users</tspan><tspan x="28">New users</tspan><tspan x="45">Sessions</tspan><tspan x="63">Views</tspan><tspan x="82">Engagement</tspan><tspan x="106">Avg. time</tspan><tspan x="123">Key events</tspan><tspan x="140">CVR</tspan><tspan x="154">CV</tspan></text>
<rect x="37.3" y="53.2" width="14" height="1.5" fill="#1d4ad6"/>
<rect x="41.3" y="56.4" width="1.5" height="1.5" fill="#1d4ad6"/>
<g class="v">
<text y="54.5"><tspan x="3">iOS</tspan><tspan x="15">12,331</tspan><tspan x="28">10,226</tspan><tspan x="53" class="b">16,102 ▬▬▬▬▬▬▬</tspan><tspan x="63">34,120</tspan><tspan x="82">62.1%</tspan><tspan x="106">01:12</tspan><tspan x="123">201</tspan><tspan x="140">1.25%</tspan><tspan x="154">201</tspan></text>
<text y="57.7"><tspan x="3">Android</tspan><tspan x="15">4,120</tspan><tspan x="28">3,512</tspan><tspan x="53" class="b">5,120 ▬▬</tspan><tspan x="63">10,330</tspan><tspan x="82">58.4%</tspan><tspan x="106">01:05</tspan><tspan x="123">98</tspan><tspan x="140">1.91%</tspan><tspan x="154">98</tspan></text>
<text y="60.9"><tspan x="3">Windows</tspan><tspan x="15">1,880</tspan><tspan x="28">1,502</tspan><tspan x="53">2,304</tspan><tspan x="63">5,871</tspan><tspan x="82">66.0%</tspan><tspan x="106">02:11</tspan><tspan x="123">77</tspan><tspan x="140">3.34%</tspan><tspan x="154">77</tspan></text>
<text y="64.1"><tspan x="3">Macintosh</tspan><tspan x="15">1,021</tspan><tspan x="28">874</tspan><tspan x="53">1,290</tspan><tspan x="63">3,105</tspan><tspan x="82">64.3%</tspan><tspan x="106">01:48</tspan><tspan x="123">41</tspan><tspan x="140">3.17%</tspan><tspan x="154">41</tspan></text>
<text y="67.3"><tspan x="3">Linux</tspan><tspan x="15">212</tspan><tspan x="28">198</tspan><tspan x="53">240</tspan><tspan x="63">502</tspan><tspan x="82">51.2%</tspan><tspan x="106">00:58</tspan><tspan x="123">3</tspan><tspan x="140">1.25%</tspan><tspan x="154">3</tspan></text>
<text y="70.5"><tspan x="3">Chrome OS</tspan><tspan x="15">101</tspan><tspan x="28">96</tspan><tspan x="53">120</tspan><tspan x="63">241</tspan><tspan x="82">49.8%</tspan><tspan x="106">00:44</tspan><tspan x="123">1</tspan><tspan x="140">0.83%</tspan><tspan x="154">1</tspan></text>
<text y="73.7"><tspan x="3">(not set)</tspan><tspan x="15">12</tspan><tspan x="28">12</tspan><tspan x="53">14</tspan><tspan x="63">20</tspan><tspan x="82">21.4%</tspan><tspan x="106">00:11</tspan><tspan x="123">0</tspan><tspan x="140">0.00%</tspan><tspan x="154">0</tspan></text>
</g>
<text x="5" y="81" class="s">Comments</text>
</g>

<!-- Card 8 New and returning -->
<g transform="translate(544,123)">
<use href="#fr"/><use href="#db"/><use href="#fl"/>
<rect x="3" y="78" width="160" height="10.7" fill="none" stroke="#e8e8e8" stroke-width=".4"/>
<text x="5.2" y="2.2" class="s">Header text</text>
<text x="3" y="6.8" class="ti">New and Returning</text>
<text x="140" y="5.3" class="s">Nov 1 - Nov 30, 2023 ▾</text>
<text y="13.4" class="s"><tspan x="7.5">Session default channel group</tspan><tspan x="36">Device category</tspan><tspan x="66">Country</tspan><tspan x="95">Landing page</tspan><tspan x="134">Search</tspan></text>
<text x="124" y="10.6" class="s">Date</text>
<g fill="none" stroke-width="7.7">
<g transform="rotate(-90 25.3 33.3)">
<circle cx="25.3" cy="33.3" r="8.85" stroke="#12b5cb"/>
<circle cx="25.3" cy="33.3" r="8.85" stroke="#1a73e8" stroke-dasharray="27.3 60" stroke-dashoffset="-27.8"/>
<circle cx="25.3" cy="33.3" r="8.85" stroke="#9334e6" stroke-dasharray=".5 60" stroke-dashoffset="-55.1"/>
</g>
<g transform="rotate(-90 107.7 33.3)">
<circle cx="107.7" cy="33.3" r="8.85" stroke="#12b5cb"/>
<circle cx="107.7" cy="33.3" r="8.85" stroke="#1a73e8" stroke-dasharray="11.12 60" stroke-dashoffset="-44.49"/>
</g>
</g>
<text y="33.8" text-anchor="middle" class="s" style="font-size:1.2px"><tspan x="25.3">Sessions</tspan><tspan x="107.7">Users</tspan></text>
<rect x="51" y="30.5" width="1.2" height="1.2" fill="#12b5cb"/><rect x="51" y="32.5" width="1.2" height="1.2" fill="#1a73e8"/><rect x="51" y="34.5" width="1.2" height="1.2" fill="#9334e6"/>
<rect x="132.7" y="30.5" width="1.2" height="1.2" fill="#12b5cb"/><rect x="132.7" y="32.5" width="1.2" height="1.2" fill="#1a73e8"/><rect x="132.7" y="34.5" width="1.2" height="1.2" fill="#9334e6"/>
<g class="s" style="font-size:1.2px"><text x="52.7" y="31.6">returning<tspan x="52.7" dy="2">new</tspan><tspan x="52.7" dy="2">(not set)</tspan></text><text x="134.4" y="31.6">returning<tspan x="134.4" dy="2">new</tspan><tspan x="134.4" dy="2">(not set)</tspan></text></g>
<rect x="102" y="53.8" width="46.7" height="6.8" fill="#c5cdf0"/>
<rect x="2" y="52" width="162" height=".25" fill="#dddddd"/>
<text y="51.3" class="h"><tspan x="3">New / returning</tspan><tspan x="20">Users</tspan><tspan x="37">New users</tspan><tspan x="55">Sessions</tspan><tspan x="73">Views</tspan><tspan x="88">Engagement</tspan><tspan x="104">Avg. time</tspan><tspan x="122">Key events</tspan><tspan x="140">CVR</tspan><tspan x="155">CV</tspan></text>
<g fill="#1d4ad6"><rect x="21" y="54.2" width="15" height="1.5"/><rect x="21" y="57.6" width="13" height="1.5"/><rect x="42.7" y="57.6" width="11.6" height="1.2" fill="#5574e0"/><rect x="156" y="54.2" width="7" height="1.5"/><rect x="156" y="57.6" width="3" height="1.5"/></g>
<g class="v">
<text y="55.5"><tspan x="3">returning</tspan><tspan x="14">9,812</tspan><tspan x="37">0</tspan><tspan x="55">12,310</tspan><tspan x="73">28,114</tspan><tspan x="88">66.2%</tspan><tspan x="104">01:31</tspan><tspan x="122">270</tspan><tspan x="140">2.19%</tspan><tspan x="150">270</tspan></text>
<text y="58.9"><tspan x="3">new</tspan><tspan x="14">8,903</tspan><tspan x="37">8,903</tspan><tspan x="55">9,021</tspan><tspan x="73">18,330</tspan><tspan x="88">57.9%</tspan><tspan x="104">00:58</tspan><tspan x="122">130</tspan><tspan x="140">1.44%</tspan><tspan x="150">130</tspan></text>
<text y="62.2"><tspan x="3">(not set)</tspan><tspan x="14">21</tspan><tspan x="37">0</tspan><tspan x="55">22</tspan><tspan x="73">30</tspan><tspan x="88">22.7%</tspan><tspan x="104">00:09</tspan><tspan x="122">0</tspan><tspan x="140">0.00%</tspan><tspan x="150">0</tspan></text>
</g>
<text x="5" y="81" class="s">Comments</text>
</g>

<!-- Card 9 Users by age trend -->
<g transform="translate(10,231)">
<use href="#fr"/><use href="#db"/><use href="#fl"/>
<rect x="3" y="80" width="160" height="10.5" fill="none" stroke="#e8e8e8" stroke-width=".4"/>
<text x="5.2" y="2.2" class="s">Header text</text>
<text x="3" y="6.8" class="ti">Users by age trend</text>
<text x="140" y="5.3" class="s">Last 12 months ▾</text>
<text y="13.4" class="s"><tspan x="7.5">Session default channel group</tspan><tspan x="36">Device category</tspan><tspan x="66">Country</tspan><tspan x="95">Landing page</tspan><tspan x="134">Search</tspan></text>
<text x="124" y="10.6" class="s">Date</text>
<rect x="8" y="21.3" width="2.6" height="1.3" fill="#1a73e8"/><rect x="19" y="21.3" width="2.6" height="1.3" fill="#12b5cb"/><rect x="28" y="21.3" width="2.6" height="1.3" fill="#e8710a"/><rect x="37" y="21.3" width="2.6" height="1.3" fill="#e52592"/><rect x="46.3" y="21.3" width="2.6" height="1.3" fill="#7cb342"/><rect x="55.3" y="21.3" width="2.6" height="1.3" fill="#f9ab00"/><rect x="64" y="21.3" width="2.6" height="1.3" fill="#9334e6"/>
<text y="22.5" class="s" style="font-size:1.3px"><tspan x="11">unknown</tspan><tspan x="22">18-24</tspan><tspan x="31">25-34</tspan><tspan x="40">35-44</tspan><tspan x="49.3">45-54</tspan><tspan x="58.3">55-64</tspan><tspan x="67">65+</tspan></text>
<g fill="#eeeeee"><rect x="8" y="25.3" width="155" height=".3"/><rect x="8" y="29.7" width="155" height=".3"/><rect x="8" y="34" width="155" height=".3"/><rect x="8" y="38.3" width="155" height=".3"/><rect x="8" y="42.7" width="155" height=".35" fill="#dddddd"/></g>
<g text-anchor="end" class="s" style="font-size:1.3px"><text x="7.3" y="25.8">2K</text><text x="7.3" y="30.2">1.5K</text><text x="7.3" y="34.5">1K</text><text x="7.3" y="38.8">500</text><text x="7.3" y="43.2">0</text></g>
<use href="#sbA" transform="translate(9,42.7) scale(10.5,10)"/>
<use href="#sbA" transform="translate(21.79,42.7) scale(10.5,10)"/>
<use href="#sbA" transform="translate(34.58,42.7) scale(10.5,13)"/>
<use href="#sbA" transform="translate(47.37,42.7) scale(10.5,13)"/>
<use href="#sbA" transform="translate(60.16,42.7) scale(10.5,13)"/>
<use href="#sbA" transform="translate(72.95,42.7) scale(10.5,16.7)"/>
<use href="#sbA" transform="translate(85.74,42.7) scale(10.5,17)"/>
<use href="#sbA" transform="translate(98.53,42.7) scale(10.5,16.7)"/>
<use href="#sbA" transform="translate(111.32,42.7) scale(10.5,16)"/>
<use href="#sbA" transform="translate(124.11,42.7) scale(10.5,13.4)"/>
<use href="#sbA" transform="translate(136.9,42.7) scale(10.5,11.7)"/>
<use href="#sbA" transform="translate(149.69,42.7) scale(10.5,9.7)"/>
<text y="44.8" text-anchor="middle" class="s" style="font-size:1.2px"><tspan x="14.25">Dec 2022</tspan><tspan x="27.04">Jan 2023</tspan><tspan x="39.83">Feb 2023</tspan><tspan x="52.62">Mar 2023</tspan><tspan x="65.41">Apr 2023</tspan><tspan x="78.2">May 2023</tspan><tspan x="90.99">Jun 2023</tspan><tspan x="103.78">Jul 2023</tspan><tspan x="116.57">Aug 2023</tspan><tspan x="129.36">Sep 2023</tspan><tspan x="142.15">Oct 2023</tspan><tspan x="154.94">Nov 2023</tspan></text>
<text x="162" y="48.3" text-anchor="end" class="s" style="font-size:1.3px">Sort by: Year Month ▾</text>
<rect x="13" y="53" width="150" height="22" fill="#eef0fb"/>
<rect x="2" y="52.9" width="161" height="2.7" fill="#d3daf6"/>
<rect x="78" y="55.6" width="38.4" height="13.5" fill="#e0e5f8"/>
<rect x="2" y="51.9" width="161" height=".25" fill="#dddddd"/>
<text y="51.1" class="h"><tspan x="3">Age</tspan><tspan x="14">Dec 2022</tspan><tspan x="26.8">Jan 2023</tspan><tspan x="39.6">Feb 2023</tspan><tspan x="52.4">Mar 2023</tspan><tspan x="65.2">Apr 2023</tspan><tspan x="78">May 2023</tspan><tspan x="90.8">Jun 2023</tspan><tspan x="103.6">Jul 2023</tspan><tspan x="116.4">Aug 2023</tspan><tspan x="129.2">Sep 2023</tspan><tspan x="142">Oct 2023</tspan><tspan x="154.8">Nov 2023</tspan></text>
<g class="v">
<text y="54.6"><tspan x="3">unknown</tspan><tspan x="14">4,312</tspan><tspan x="26.8">4,201</tspan><tspan x="39.6">5,410</tspan><tspan x="52.4">5,334</tspan><tspan x="65.2">5,302</tspan><tspan x="78">6,911</tspan><tspan x="90.8">7,012</tspan><tspan x="103.6">6,930</tspan><tspan x="116.4">6,602</tspan><tspan x="129.2">5,511</tspan><tspan x="142">4,822</tspan><tspan x="154.8">4,013</tspan></text>
<text y="57.4"><tspan x="3">18-24</tspan><tspan x="14">1,012</tspan><tspan x="26.8">998</tspan><tspan x="39.6">1,301</tspan><tspan x="52.4">1,288</tspan><tspan x="65.2">1,270</tspan><tspan x="78">1,655</tspan><tspan x="90.8">1,690</tspan><tspan x="103.6">1,661</tspan><tspan x="116.4">1,590</tspan><tspan x="129.2">1,320</tspan><tspan x="142">1,152</tspan><tspan x="154.8">961</tspan></text>
<text y="60.1"><tspan x="3">25-34</tspan><tspan x="14">920</tspan><tspan x="26.8">901</tspan><tspan x="39.6">1,180</tspan><tspan x="52.4">1,170</tspan><tspan x="65.2">1,160</tspan><tspan x="78">1,501</tspan><tspan x="90.8">1,532</tspan><tspan x="103.6">1,510</tspan><tspan x="116.4">1,444</tspan><tspan x="129.2">1,201</tspan><tspan x="142">1,050</tspan><tspan x="154.8">877</tspan></text>
<text y="62.8"><tspan x="3">35-44</tspan><tspan x="14">650</tspan><tspan x="26.8">642</tspan><tspan x="39.6">830</tspan><tspan x="52.4">822</tspan><tspan x="65.2">815</tspan><tspan x="78">1,063</tspan><tspan x="90.8">1,080</tspan><tspan x="103.6">1,066</tspan><tspan x="116.4">1,016</tspan><tspan x="129.2">848</tspan><tspan x="142">742</tspan><tspan x="154.8">618</tspan></text>
<text y="65.5"><tspan x="3">45-54</tspan><tspan x="14">301</tspan><tspan x="26.8">298</tspan><tspan x="39.6">388</tspan><tspan x="52.4">380</tspan><tspan x="65.2">377</tspan><tspan x="78">491</tspan><tspan x="90.8">499</tspan><tspan x="103.6">493</tspan><tspan x="116.4">470</tspan><tspan x="129.2">392</tspan><tspan x="142">343</tspan><tspan x="154.8">286</tspan></text>
<text y="68.2"><tspan x="3">55-64</tspan><tspan x="14">201</tspan><tspan x="26.8">197</tspan><tspan x="39.6">258</tspan><tspan x="52.4">254</tspan><tspan x="65.2">252</tspan><tspan x="78">329</tspan><tspan x="90.8">334</tspan><tspan x="103.6">330</tspan><tspan x="116.4">314</tspan><tspan x="129.2">262</tspan><tspan x="142">229</tspan><tspan x="154.8">191</tspan></text>
<text y="70.9"><tspan x="3">65+</tspan><tspan x="14">88</tspan><tspan x="26.8">86</tspan><tspan x="39.6">112</tspan><tspan x="52.4">110</tspan><tspan x="65.2">109</tspan><tspan x="78">143</tspan><tspan x="90.8">145</tspan><tspan x="103.6">143</tspan><tspan x="116.4">136</tspan><tspan x="129.2">114</tspan><tspan x="142">99</tspan><tspan x="154.8">83</tspan></text>
<text y="73.6"><tspan x="3">(not set)</tspan><tspan x="14">12</tspan><tspan x="26.8">10</tspan><tspan x="39.6">15</tspan><tspan x="52.4">13</tspan><tspan x="65.2">12</tspan><tspan x="78">18</tspan><tspan x="90.8">19</tspan><tspan x="103.6">17</tspan><tspan x="116.4">16</tspan><tspan x="129.2">13</tspan><tspan x="142">11</tspan><tspan x="154.8">9</tspan></text>
<text y="77" class="h"><tspan x="3">Grand total</tspan><tspan x="14">7,496</tspan><tspan x="26.8">7,333</tspan><tspan x="39.6">9,494</tspan><tspan x="52.4">9,371</tspan><tspan x="65.2">9,297</tspan><tspan x="78">12,111</tspan><tspan x="90.8">12,311</tspan><tspan x="103.6">12,150</tspan><tspan x="116.4">11,588</tspan><tspan x="129.2">9,661</tspan><tspan x="142">8,448</tspan><tspan x="154.8">7,038</tspan></text>
</g>
<text x="5" y="82.8" class="s">Comments</text>
</g>

<!-- Card 10 Acquisition summary -->
<g transform="translate(188,231)">
<use href="#fr"/><use href="#db"/><use href="#fl"/><use href="#cb"/>
<text x="5.2" y="2.2" class="s">Header text</text>
<text x="3" y="6.8" class="ti">Acquisition Summary</text>
<text x="140" y="5.3" class="s">Nov 1 - Nov 30, 2023 ▾</text>
<text y="13.4" class="s"><tspan x="7.5">Session default channel group</tspan><tspan x="36">Device category</tspan><tspan x="66">Country</tspan><tspan x="95">Landing page</tspan><tspan x="134">Search</tspan></text>
<text x="124" y="10.6" class="s">Date</text>
<g fill="none" stroke="#e6e6e6" stroke-width=".35"><rect x="3.7" y="19.7" width="76.6" height="26.6"/><rect x="3.7" y="48" width="76.6" height="26.7"/><rect x="83.7" y="19.7" width="78.3" height="50"/></g>
<text x="6" y="22.6" class="v" style="fill:#555">Traffic acquisition: Session default channel group (Users)</text>
<text x="6" y="51" class="v" style="fill:#555">User acquisition: First user default channel group (New users)</text>
<text x="86" y="22.6" class="v" style="fill:#555">Traffic acquisition: Session source / medium</text>
<rect x="60.3" y="27.6" width="8.4" height="16.5" fill="#ccd4f2"/>
<rect x="60.3" y="56.1" width="8.4" height="16.5" fill="#ccd4f2"/>
<rect x="122" y="27.7" width="11.7" height="9.3" fill="#d4daf4"/>
<rect x="122" y="52.5" width="11.7" height="3.1" fill="#d4daf4"/>
<text y="26.3" class="h"><tspan x="6">Session default channel group</tspan><tspan x="30">Users</tspan><tspan x="44">Sessions</tspan><tspan x="60.5">CVR</tspan><tspan x="71">CV</tspan></text>
<text y="54.8" class="h"><tspan x="6">First user default channel group</tspan><tspan x="30">New users</tspan><tspan x="44">Users</tspan><tspan x="60.5">CVR</tspan><tspan x="71">CV</tspan></text>
<text y="26.3" class="h"><tspan x="86">Source / medium</tspan><tspan x="104">Sessions</tspan><tspan x="122">CVR</tspan><tspan x="136">Users ↓</tspan><tspan x="150">Key events</tspan></text>
<g fill="#1d4ad6"><rect x="36.3" y="28.5" width="7.3" height="1.4"/><rect x="36.3" y="31.8" width="3.5" height="1.4"/><rect x="36.3" y="35.1" width="2.5" height="1.4"/><rect x="36.3" y="38.4" width="1.2" height="1.4"/><rect x="36.3" y="41.7" width=".8" height="1.4"/>
<rect x="36.3" y="57" width="7.3" height="1.4"/><rect x="36.3" y="60.3" width="3.2" height="1.4"/><rect x="36.3" y="63.6" width="2.2" height="1.4"/><rect x="36.3" y="66.9" width="1.2" height="1.4"/><rect x="36.3" y="70.2" width=".8" height="1.4"/>
<rect x="138.7" y="28" width="6.7" height="1.3"/><rect x="138.7" y="31.1" width="5" height="1.3"/><rect x="138.7" y="34.2" width="4" height="1.3"/><rect x="138.7" y="37.3" width="3" height="1.3"/><rect x="138.7" y="40.4" width="2.5" height="1.3"/><rect x="138.7" y="43.5" width="2" height="1.3"/><rect x="138.7" y="46.6" width="1.5" height="1.3"/><rect x="138.7" y="49.7" width="1.2" height="1.3"/><rect x="138.7" y="52.8" width="1" height="1.3"/><rect x="138.7" y="55.9" width=".8" height="1.3"/><rect x="138.7" y="59" width=".6" height="1.3"/></g>
<g class="v">
<text y="29.7"><tspan x="6">Organic Search</tspan><tspan x="30">9,102</tspan><tspan x="45" class="b">11,210</tspan><tspan x="61">1.9%</tspan><tspan x="71">212</tspan></text>
<text y="33"><tspan x="6">Direct</tspan><tspan x="30">4,211</tspan><tspan x="45" class="b">5,012</tspan><tspan x="61">1.5%</tspan><tspan x="71">77</tspan></text>
<text y="36.3"><tspan x="6">Referral</tspan><tspan x="30">2,810</tspan><tspan x="45" class="b">3,101</tspan><tspan x="61">2.1%</tspan><tspan x="71">64</tspan></text>
<text y="39.6"><tspan x="6">Organic Social</tspan><tspan x="30">1,021</tspan><tspan x="45">1,190</tspan><tspan x="61">0.8%</tspan><tspan x="71">9</tspan></text>
<text y="42.9"><tspan x="6">Unassigned</tspan><tspan x="30">512</tspan><tspan x="45">540</tspan><tspan x="61">0.2%</tspan><tspan x="71">1</tspan></text>
<text y="58.2"><tspan x="6">Organic Search</tspan><tspan x="30">6,881</tspan><tspan x="45" class="b">7,102</tspan><tspan x="61">1.7%</tspan><tspan x="71">121</tspan></text>
<text y="61.5"><tspan x="6">Direct</tspan><tspan x="30">2,990</tspan><tspan x="45" class="b">3,201</tspan><tspan x="61">1.3%</tspan><tspan x="71">42</tspan></text>
<text y="64.8"><tspan x="6">Referral</tspan><tspan x="30">1,822</tspan><tspan x="45" class="b">1,990</tspan><tspan x="61">1.8%</tspan><tspan x="71">36</tspan></text>
<text y="68.1"><tspan x="6">Organic Social</tspan><tspan x="30">710</tspan><tspan x="45">760</tspan><tspan x="61">0.6%</tspan><tspan x="71">5</tspan></text>
<text y="71.4"><tspan x="6">Unassigned</tspan><tspan x="30">322</tspan><tspan x="45">330</tspan><tspan x="61">0.1%</tspan><tspan x="71">0</tspan></text>
<text y="29.1"><tspan x="84.5">1.</tspan><tspan x="87">google / organic</tspan><tspan x="104">10,021</tspan><tspan x="122">1.9%</tspan><tspan x="146">8,210</tspan></text>
<text y="32.2"><tspan x="84.5">2.</tspan><tspan x="87">(direct) / (none)</tspan><tspan x="104">5,012</tspan><tspan x="122">1.5%</tspan><tspan x="146">4,211</tspan></text>
<text y="35.3"><tspan x="84.5">3.</tspan><tspan x="87">yahoo / organic</tspan><tspan x="104">1,602</tspan><tspan x="122">2.0%</tspan><tspan x="146">1,402</tspan></text>
<text y="38.4"><tspan x="84.5">4.</tspan><tspan x="87">bing / organic</tspan><tspan x="104">1,102</tspan><tspan x="122">1.4%</tspan><tspan x="146">980</tspan></text>
<text y="41.5"><tspan x="84.5">5.</tspan><tspan x="87">t.co / referral</tspan><tspan x="104">801</tspan><tspan x="122">0.7%</tspan><tspan x="146">702</tspan></text>
<text y="44.6"><tspan x="84.5">6.</tspan><tspan x="87">facebook / referral</tspan><tspan x="104">612</tspan><tspan x="122">0.6%</tspan><tspan x="146">541</tspan></text>
<text y="47.7"><tspan x="84.5">7.</tspan><tspan x="87">instagram / social</tspan><tspan x="104">411</tspan><tspan x="122">0.4%</tspan><tspan x="146">380</tspan></text>
<text y="50.8"><tspan x="84.5">8.</tspan><tspan x="87">note.com / referral</tspan><tspan x="104">301</tspan><tspan x="122">1.1%</tspan><tspan x="146">270</tspan></text>
<text y="53.9"><tspan x="84.5">9.</tspan><tspan x="87">duckduckgo / organic</tspan><tspan x="104">212</tspan><tspan x="122">2.4%</tspan><tspan x="146">190</tspan></text>
<text y="57"><tspan x="84.5">10.</tspan><tspan x="87">newsletter / email</tspan><tspan x="104">120</tspan><tspan x="122">3.1%</tspan><tspan x="146">101</tspan></text>
<text y="60.1"><tspan x="84.5">11.</tspan><tspan x="87">(not set)</tspan><tspan x="104">80</tspan><tspan x="122">0.0%</tspan><tspan x="146">70</tspan></text>
<text y="63.6" class="h"><tspan x="87">Grand total</tspan><tspan x="104">20,412</tspan><tspan x="122">1.7%</tspan><tspan x="146">17,050</tspan></text>
</g>
<text x="148" y="67.7" class="s" style="font-size:1.3px">1 - 11 / 52 ‹ ›</text>
<text x="5" y="81.3" class="s">Comments</text>
</g>

<!-- Card 11 Session default channel group -->
<g transform="translate(366,231)">
<use href="#fr"/><use href="#db"/><use href="#fl"/><use href="#cb"/>
<text x="5.2" y="2.2" class="s">Header text</text>
<text x="3" y="6.8" class="ti">Session default channel group (GA4)</text>
<text x="140" y="5.3" class="s">Nov 1 - Nov 30, 2023 ▾</text>
<text y="13.4" class="s"><tspan x="7.5">Session default channel group</tspan><tspan x="36">Device category</tspan><tspan x="66">Country</tspan><tspan x="95">Landing page</tspan><tspan x="134">Search</tspan></text>
<text x="124" y="10.6" class="s">Date</text>
<text x="148" y="17" class="s" style="font-size:1.3px">Sessions (previous period)</text>
<rect x="71.7" y="21.4" width="12.3" height="29" fill="#cdd4f2"/>
<rect x="71.7" y="21.4" width="12.3" height="7.4" fill="#bcc7ef"/>
<rect x="71.7" y="35.9" width="12.3" height="3.6" fill="#bcc7ef"/>
<rect x="2" y="20.8" width="162" height=".25" fill="#dddddd"/>
<text y="20" class="h"><tspan x="3">Session default channel…</tspan><tspan x="16">Users</tspan><tspan x="27">%Δ</tspan><tspan x="33">New users</tspan><tspan x="46">%Δ</tspan><tspan x="52">Sessions</tspan><tspan x="66">%Δ</tspan><tspan x="73">CVR</tspan><tspan x="86">CV</tspan><tspan x="93">Key events</tspan><tspan x="111">Channel</tspan><tspan x="126">Oct</tspan><tspan x="137">Sep</tspan><tspan x="148">Aug</tspan><tspan x="157">Jul</tspan></text>
<g fill="#1d4ad6"><rect x="15.7" y="21.8" width="10" height="1.5"/><rect x="24.5" y="25.5" width="2" height="1.5"/><rect x="23" y="29.5" width="3" height="1.5"/><rect x="100.7" y="21.8" width="2.6" height="1.5"/></g>
<g class="v">
<text y="23.2"><tspan x="3">Organic Search</tspan><tspan x="27">-2.1%</tspan><tspan x="33" class="b">8,210</tspan><tspan x="46">-1.8%</tspan><tspan x="52">11,210</tspan><tspan x="66">-2.4%</tspan><tspan x="73">1.9%</tspan><tspan x="86">212</tspan><tspan x="93">310</tspan><tspan x="111">Organic Search</tspan><tspan x="126">11,490</tspan><tspan x="137">11,802</tspan><tspan x="148">12,100</tspan><tspan x="157">12,020</tspan></text>
<text y="26.9"><tspan x="3">Direct</tspan><tspan x="16">4,211</tspan><tspan x="27">1.2%</tspan><tspan x="33">3,990</tspan><tspan x="46">0.8%</tspan><tspan x="52">5,012</tspan><tspan x="66">1.1%</tspan><tspan x="73">1.5%</tspan><tspan x="86">77</tspan><tspan x="93">101</tspan><tspan x="111">Direct</tspan><tspan x="126">4,951</tspan><tspan x="137">5,102</tspan><tspan x="148">5,230</tspan><tspan x="157">5,010</tspan></text>
<text y="30.6"><tspan x="3">Referral</tspan><tspan x="16">2,810</tspan><tspan x="27">3.5%</tspan><tspan x="33">2,602</tspan><tspan x="46">2.9%</tspan><tspan x="52">3,101</tspan><tspan x="66">3.0%</tspan><tspan x="73">2.1%</tspan><tspan x="86">64</tspan><tspan x="93">88</tspan><tspan x="111">Referral</tspan><tspan x="126">3,010</tspan><tspan x="137">2,980</tspan><tspan x="148">2,870</tspan><tspan x="157">2,800</tspan></text>
<text y="34.3"><tspan x="3">Organic Social</tspan><tspan x="16">1,021</tspan><tspan x="27">-4.0%</tspan><tspan x="33">990</tspan><tspan x="46">-3.1%</tspan><tspan x="52">1,190</tspan><tspan x="66">-3.5%</tspan><tspan x="73">0.8%</tspan><tspan x="86">9</tspan><tspan x="93">12</tspan><tspan x="111">Organic Social</tspan><tspan x="126">1,233</tspan><tspan x="137">1,301</tspan><tspan x="148">1,402</tspan><tspan x="157">1,350</tspan></text>
<text y="38"><tspan x="3">Paid Search</tspan><tspan x="16">702</tspan><tspan x="27">5.2%</tspan><tspan x="33">650</tspan><tspan x="46">4.8%</tspan><tspan x="52">812</tspan><tspan x="66">5.0%</tspan><tspan x="73">3.1%</tspan><tspan x="86">25</tspan><tspan x="93">30</tspan><tspan x="111">Paid Search</tspan><tspan x="126">773</tspan><tspan x="137">760</tspan><tspan x="148">701</tspan><tspan x="157">690</tspan></text>
<text y="41.7"><tspan x="3">Email</tspan><tspan x="16">212</tspan><tspan x="27">0.5%</tspan><tspan x="33">140</tspan><tspan x="46">0.2%</tspan><tspan x="52">240</tspan><tspan x="66">0.4%</tspan><tspan x="73">4.2%</tspan><tspan x="86">10</tspan><tspan x="93">14</tspan><tspan x="111">Email</tspan><tspan x="126">239</tspan><tspan x="137">250</tspan><tspan x="148">244</tspan><tspan x="157">230</tspan></text>
<text y="45.4"><tspan x="3">Unassigned</tspan><tspan x="16">512</tspan><tspan x="27">-0.9%</tspan><tspan x="33">498</tspan><tspan x="46">-1.0%</tspan><tspan x="52">540</tspan><tspan x="66">-0.8%</tspan><tspan x="73">0.2%</tspan><tspan x="86">1</tspan><tspan x="93">1</tspan><tspan x="111">Unassigned</tspan><tspan x="126">544</tspan><tspan x="137">561</tspan><tspan x="148">570</tspan><tspan x="157">555</tspan></text>
<text y="49.1"><tspan x="3">Display</tspan><tspan x="16">45</tspan><tspan x="27">-</tspan><tspan x="33">44</tspan><tspan x="46">-</tspan><tspan x="52">48</tspan><tspan x="66">-</tspan><tspan x="73">0.0%</tspan><tspan x="86">0</tspan><tspan x="93">0</tspan><tspan x="111">Display</tspan><tspan x="157">12</tspan></text>
<text y="74.2" class="h"><tspan x="3">Grand total</tspan><tspan x="16">17,050</tspan><tspan x="27">-1.0%</tspan><tspan x="33">16,110</tspan><tspan x="46">-0.9%</tspan><tspan x="52">21,212</tspan><tspan x="66">-1.1%</tspan><tspan x="73">1.9%</tspan><tspan x="86">398</tspan><tspan x="93">556</tspan><tspan x="111">Grand total</tspan><tspan x="126">21,440</tspan><tspan x="137">21,756</tspan><tspan x="148">22,117</tspan><tspan x="157">21,655</tspan></text>
</g>
<text x="5" y="81.3" class="s">Comments</text>
</g>

<!-- Card 12 Query (GSC) -->
<g transform="translate(544,231)">
<use href="#fr"/><use href="#db"/><use href="#cb"/>
<text x="5.2" y="2.2" class="s">Header text</text>
<text x="3" y="6.8" class="ti">Query (GSC)</text>
<text x="140" y="5.3" class="s">Nov 1 - Nov 30, 2023 ▾</text>
<rect x="100" y="13" width="14.3" height="59.5" fill="#eceffb"/>
<g fill="#c5cdf0"><rect x="100" y="13" width="14.3" height="2.9"/><rect x="100" y="42.5" width="14.3" height="2.9"/><rect x="100" y="48.4" width="14.3" height="2.9"/><rect x="100" y="57.3" width="14.3" height="2.9"/><rect x="100" y="66.1" width="14.3" height="2.9"/></g>
<rect x="2" y="12.5" width="162" height=".25" fill="#dddddd"/>
<text y="11.8" class="h"><tspan x="3">#</tspan><tspan x="10">Query</tspan><tspan x="43">Clicks ↓</tspan><tspan x="57">%Δ</tspan><tspan x="64">Impressions</tspan><tspan x="80">%Δ</tspan><tspan x="88">CTR</tspan><tspan x="101">%Δ</tspan><tspan x="116">Position</tspan><tspan x="130">%Δ</tspan><tspan x="140">Avg. pos (prev)</tspan><tspan x="157">%Δ</tspan></text>
<g fill="#1d4ad6"><rect x="43.7" y="13.5" width="10.7" height="1.5"/><rect x="43.7" y="16.45" width="9.5" height="1.5"/><rect x="43.7" y="19.4" width="6" height="1.5"/><rect x="43.7" y="22.35" width="5.5" height="1.5"/><rect x="43.7" y="25.3" width="5" height="1.5"/><rect x="43.7" y="28.25" width="4.3" height="1.5"/><rect x="43.7" y="31.2" width="4" height="1.5"/><rect x="43.7" y="34.15" width="3.7" height="1.5"/><rect x="43.7" y="37.1" width="3.3" height="1.5"/><rect x="43.7" y="40.05" width="3.3" height="1.5"/><rect x="43.7" y="43" width="3" height="1.5"/><rect x="43.7" y="45.95" width="3" height="1.5"/><rect x="43.7" y="48.9" width="2.7" height="1.5"/><rect x="43.7" y="51.85" width="2.7" height="1.5"/><rect x="43.7" y="54.8" width="2.5" height="1.5"/><rect x="43.7" y="57.75" width="2.5" height="1.5"/><rect x="43.7" y="60.7" width="2.3" height="1.5"/><rect x="43.7" y="63.65" width="2.3" height="1.5"/><rect x="43.7" y="66.6" width="2.2" height="1.5"/><rect x="43.7" y="69.55" width="2" height="1.5"/><rect x="72" y="22.35" width="10" height="1.2" fill="#5574e0"/></g>
<g class="v">
<text y="14.8"><tspan x="3">1.</tspan><tspan x="10">brand name</tspan><tspan x="57">12.1%</tspan><tspan x="64">21,020</tspan><tspan x="80">8.1%</tspan><tspan x="88">12.2%</tspan><tspan x="101">24.7%</tspan><tspan x="116">1.2</tspan><tspan x="130">0.0%</tspan><tspan x="140">1.2</tspan><tspan x="157">0.1</tspan></text>
<text y="17.75"><tspan x="3">2.</tspan><tspan x="10">brand name login</tspan><tspan x="57">3.4%</tspan><tspan x="64">9,102</tspan><tspan x="80">2.2%</tspan><tspan x="88">20.1%</tspan><tspan x="101">1.2%</tspan><tspan x="116">1.1</tspan><tspan x="130">0.0%</tspan><tspan x="140">1.1</tspan><tspan x="157">0.0</tspan></text>
<text y="20.7"><tspan x="3">3.</tspan><tspan x="10">product name</tspan><tspan x="57">-1.2%</tspan><tspan x="64">12,331</tspan><tspan x="80">1.1%</tspan><tspan x="88">8.1%</tspan><tspan x="101">-2.3%</tspan><tspan x="116">2.3</tspan><tspan x="130">1.2%</tspan><tspan x="140">2.2</tspan><tspan x="157">0.1</tspan></text>
<text y="23.65"><tspan x="3">4.</tspan><tspan x="10">service price</tspan><tspan x="57">4.5%</tspan><tspan x="64">15,224</tspan><tspan x="80">6.2%</tspan><tspan x="88">5.2%</tspan><tspan x="101">-1.6%</tspan><tspan x="116">4.1</tspan><tspan x="130">-2.1%</tspan><tspan x="140">4.2</tspan><tspan x="157">0.2</tspan></text>
<text y="26.6"><tspan x="3">5.</tspan><tspan x="10">keyword example one</tspan><tspan x="57">2.2%</tspan><tspan x="64">8,121</tspan><tspan x="80">0.8%</tspan><tspan x="88">6.4%</tspan><tspan x="101">1.4%</tspan><tspan x="116">3.5</tspan><tspan x="130">0.3%</tspan><tspan x="140">3.5</tspan><tspan x="157">0.0</tspan></text>
<text y="29.55"><tspan x="3">6.</tspan><tspan x="10">keyword example two</tspan><tspan x="57">-0.8%</tspan><tspan x="64">7,331</tspan><tspan x="80">-1.1%</tspan><tspan x="88">6.1%</tspan><tspan x="101">0.3%</tspan><tspan x="116">3.9</tspan><tspan x="130">1.1%</tspan><tspan x="140">3.8</tspan><tspan x="157">0.1</tspan></text>
<text y="32.5"><tspan x="3">7.</tspan><tspan x="10">how to example</tspan><tspan x="57">1.0%</tspan><tspan x="64">9,820</tspan><tspan x="80">2.5%</tspan><tspan x="88">4.2%</tspan><tspan x="101">-1.5%</tspan><tspan x="116">5.2</tspan><tspan x="130">0.5%</tspan><tspan x="140">5.1</tspan><tspan x="157">0.1</tspan></text>
<text y="35.45"><tspan x="3">8.</tspan><tspan x="10">example tool</tspan><tspan x="57">0.4%</tspan><tspan x="64">6,102</tspan><tspan x="80">0.1%</tspan><tspan x="88">5.8%</tspan><tspan x="101">0.3%</tspan><tspan x="116">4.4</tspan><tspan x="130">0.0%</tspan><tspan x="140">4.4</tspan><tspan x="157">0.0</tspan></text>
<text y="38.4"><tspan x="3">9.</tspan><tspan x="10">example review</tspan><tspan x="57">3.3%</tspan><tspan x="64">5,540</tspan><tspan x="80">1.9%</tspan><tspan x="88">5.7%</tspan><tspan x="101">1.4%</tspan><tspan x="116">6.1</tspan><tspan x="130">-0.6%</tspan><tspan x="140">6.2</tspan><tspan x="157">0.1</tspan></text>
<text y="41.35"><tspan x="3">10.</tspan><tspan x="10">brand name app</tspan><tspan x="57">-2.0%</tspan><tspan x="64">3,902</tspan><tspan x="80">-0.4%</tspan><tspan x="88">7.9%</tspan><tspan x="101">-1.6%</tspan><tspan x="116">2.0</tspan><tspan x="130">0.2%</tspan><tspan x="140">2.0</tspan><tspan x="157">0.0</tspan></text>
<text y="44.3"><tspan x="3">11.</tspan><tspan x="10">example comparison</tspan><tspan x="57">5.5%</tspan><tspan x="64">6,711</tspan><tspan x="80">3.2%</tspan><tspan x="88">4.3%</tspan><tspan x="101">2.3%</tspan><tspan x="116">7.3</tspan><tspan x="130">1.0%</tspan><tspan x="140">7.2</tspan><tspan x="157">0.1</tspan></text>
<text y="47.25"><tspan x="3">12.</tspan><tspan x="10">example guide</tspan><tspan x="57">0.2%</tspan><tspan x="64">4,320</tspan><tspan x="80">0.5%</tspan><tspan x="88">6.5%</tspan><tspan x="101">-0.3%</tspan><tspan x="116">5.5</tspan><tspan x="130">0.1%</tspan><tspan x="140">5.5</tspan><tspan x="157">0.0</tspan></text>
<text y="50.2"><tspan x="3">13.</tspan><tspan x="10">sample keyword long tail</tspan><tspan x="57">1.4%</tspan><tspan x="64">2,771</tspan><tspan x="80">0.9%</tspan><tspan x="88">9.8%</tspan><tspan x="101">0.5%</tspan><tspan x="116">3.1</tspan><tspan x="130">0.0%</tspan><tspan x="140">3.1</tspan><tspan x="157">0.0</tspan></text>
<text y="53.15"><tspan x="3">14.</tspan><tspan x="10">example download</tspan><tspan x="57">-1.1%</tspan><tspan x="64">3,113</tspan><tspan x="80">-0.6%</tspan><tspan x="88">8.4%</tspan><tspan x="101">-0.5%</tspan><tspan x="116">4.0</tspan><tspan x="130">0.3%</tspan><tspan x="140">4.0</tspan><tspan x="157">0.0</tspan></text>
<text y="56.1"><tspan x="3">15.</tspan><tspan x="10">example support</tspan><tspan x="57">2.9%</tspan><tspan x="64">2,120</tspan><tspan x="80">1.1%</tspan><tspan x="88">11.2%</tspan><tspan x="101">1.8%</tspan><tspan x="116">2.6</tspan><tspan x="130">0.2%</tspan><tspan x="140">2.6</tspan><tspan x="157">0.0</tspan></text>
<text y="59.05"><tspan x="3">16.</tspan><tspan x="10">example pricing</tspan><tspan x="57">0.7%</tspan><tspan x="64">3,840</tspan><tspan x="80">0.4%</tspan><tspan x="88">6.0%</tspan><tspan x="101">0.3%</tspan><tspan x="116">5.9</tspan><tspan x="130">0.1%</tspan><tspan x="140">5.9</tspan><tspan x="157">0.0</tspan></text>
<text y="62"><tspan x="3">17.</tspan><tspan x="10">example</tspan><tspan x="57">-0.3%</tspan><tspan x="64">9,015</tspan><tspan x="80">0.2%</tspan><tspan x="88">2.4%</tspan><tspan x="101">-0.5%</tspan><tspan x="116">8.8</tspan><tspan x="130">0.4%</tspan><tspan x="140">8.7</tspan><tspan x="157">0.1</tspan></text>
<text y="64.95"><tspan x="3">18.</tspan><tspan x="10">example alternative</tspan><tspan x="57">1.9%</tspan><tspan x="64">1,880</tspan><tspan x="80">0.7%</tspan><tspan x="88">10.9%</tspan><tspan x="101">1.2%</tspan><tspan x="116">3.3</tspan><tspan x="130">0.0%</tspan><tspan x="140">3.3</tspan><tspan x="157">0.0</tspan></text>
<text y="67.9"><tspan x="3">19.</tspan><tspan x="10">example login</tspan><tspan x="57">0.0%</tspan><tspan x="64">1,302</tspan><tspan x="80">0.0%</tspan><tspan x="88">15.1%</tspan><tspan x="101">0.0%</tspan><tspan x="116">1.5</tspan><tspan x="130">0.0%</tspan><tspan x="140">1.5</tspan><tspan x="157">0.0</tspan></text>
<text y="70.85"><tspan x="3">20.</tspan><tspan x="10">example blog</tspan><tspan x="57">0.9%</tspan><tspan x="64">2,451</tspan><tspan x="80">0.3%</tspan><tspan x="88">7.3%</tspan><tspan x="101">0.6%</tspan><tspan x="116">6.6</tspan><tspan x="130">0.2%</tspan><tspan x="140">6.6</tspan><tspan x="157">0.0</tspan></text>
<text y="75" class="h"><tspan x="10">Grand total</tspan><tspan x="43">18,221</tspan><tspan x="57">2.3%</tspan><tspan x="64">170,012</tspan><tspan x="80">1.9%</tspan><tspan x="88">10.7%</tspan><tspan x="101">0.4%</tspan><tspan x="116">4.1</tspan><tspan x="130">0.1%</tspan><tspan x="140">4.1</tspan><tspan x="157">0.0</tspan></text>
</g>
<text x="5" y="81.3" class="s">Comments</text>
</g>

<!-- Card 13 Page summary -->
<g transform="translate(10,338)">
<use href="#fr"/><use href="#db"/><use href="#fl"/>
<rect x="3" y="77.7" width="160" height="11.6" fill="none" stroke="#e8e8e8" stroke-width=".4"/>
<text x="5.2" y="2.2" class="s">Header text</text>
<text x="3" y="6.8" class="ti">Page summary</text>
<text x="140" y="5.3" class="s">Nov 1 - Nov 30, 2023 ▾</text>
<text y="13.4" class="s"><tspan x="7.5">Session default channel group</tspan><tspan x="36">Device category</tspan><tspan x="66">Country</tspan><tspan x="95">Landing page</tspan><tspan x="134">Search</tspan></text>
<text x="124" y="10.6" class="s">Date</text>
<g fill="none" stroke="#e6e6e6" stroke-width=".35"><rect x="3.3" y="20" width="65" height="54.3"/><rect x="70" y="20" width="93" height="54.3"/></g>
<text x="5" y="23.3" style="font-size:2px;fill:#444">Landing page <tspan class="s">Sessions</tspan></text>
<text x="72" y="23.3" style="font-size:2px;fill:#444">Page <tspan class="s">Views</tspan></text>
<rect x="5" y="27.2" width="62" height=".25" fill="#dddddd"/>
<text y="26.6" class="h"><tspan x="5">Landing page</tspan><tspan x="33">Sessions ↓</tspan><tspan x="45">Users</tspan><tspan x="54">CV</tspan><tspan x="61">CVR</tspan></text>
<rect x="39" y="28.3" width="2.7" height="1.4" fill="#1d4ad6"/>
<text y="29.6" class="v"><tspan x="5">/</tspan><tspan x="33">1,202</tspan><tspan x="45">980</tspan><tspan x="54">21</tspan><tspan x="61">1.7%</tspan></text>
<text y="32.6" class="v"><tspan x="5">(not set)</tspan><tspan x="33">102</tspan><tspan x="45">88</tspan><tspan x="54">0</tspan><tspan x="61">0.0%</tspan></text>
<rect x="156" y="27.8" width="7" height="41" fill="#c9d1f2"/>
<rect x="143.3" y="37.4" width="12.7" height="3.2" fill="#c9d1f2"/>
<rect x="72" y="27.4" width="91" height=".25" fill="#dddddd"/>
<text y="26.8" class="h"><tspan x="72">Page title</tspan><tspan x="108">Views ↓</tspan><tspan x="119">Users</tspan><tspan x="130">Avg. time</tspan><tspan x="143">Entrances</tspan><tspan x="156.5">Exits</tspan></text>
<g class="v">
<text y="29.6"><tspan x="72">Top page | Brand</tspan><tspan x="108">21,020</tspan><tspan x="119">9,102</tspan><tspan x="130">00:58</tspan><tspan x="143">8,102</tspan><tspan x="157">7,211</tspan></text>
<text y="32.8"><tspan x="72">Service | Brand</tspan><tspan x="108">9,102</tspan><tspan x="119">4,201</tspan><tspan x="130">01:12</tspan><tspan x="143">2,102</tspan><tspan x="157">1,902</tspan></text>
<text y="36"><tspan x="72">Product list page | Brand</tspan><tspan x="108">7,331</tspan><tspan x="119">3,554</tspan><tspan x="130">01:05</tspan><tspan x="143">1,771</tspan><tspan x="157">1,530</tspan></text>
<text y="39.2"><tspan x="72">Pricing | Brand</tspan><tspan x="108">6,102</tspan><tspan x="119">3,012</tspan><tspan x="130">01:31</tspan><tspan x="143">1,320</tspan><tspan x="157">1,203</tspan></text>
<text y="42.4"><tspan x="72">Product detail A | Brand</tspan><tspan x="108">5,540</tspan><tspan x="119">2,880</tspan><tspan x="130">00:49</tspan><tspan x="143">1,102</tspan><tspan x="157">988</tspan></text>
<text y="45.6"><tspan x="72">Case studies and examples</tspan><tspan x="108">4,320</tspan><tspan x="119">2,212</tspan><tspan x="130">02:01</tspan><tspan x="143">902</tspan><tspan x="157">850</tspan></text>
<text y="48.8"><tspan x="72">About us | Brand</tspan><tspan x="108">3,840</tspan><tspan x="119">1,992</tspan><tspan x="130">00:44</tspan><tspan x="143">540</tspan><tspan x="157">612</tspan></text>
<text y="52"><tspan x="72">Blog article title one</tspan><tspan x="108">3,113</tspan><tspan x="119">1,870</tspan><tspan x="130">02:33</tspan><tspan x="143">1,402</tspan><tspan x="157">1,301</tspan></text>
<text y="55.2"><tspan x="72">Contact | Brand</tspan><tspan x="108">2,771</tspan><tspan x="119">1,540</tspan><tspan x="130">01:21</tspan><tspan x="143">330</tspan><tspan x="157">402</tspan></text>
<text y="58.4"><tspan x="72">Blog article title two</tspan><tspan x="108">2,451</tspan><tspan x="119">1,391</tspan><tspan x="130">02:10</tspan><tspan x="143">980</tspan><tspan x="157">920</tspan></text>
<text y="61.6"><tspan x="72">FAQ | Brand</tspan><tspan x="108">2,120</tspan><tspan x="119">1,120</tspan><tspan x="130">00:39</tspan><tspan x="143">212</tspan><tspan x="157">301</tspan></text>
<text y="64.8"><tspan x="72">Blog listing | Brand news</tspan><tspan x="108">1,880</tspan><tspan x="119">1,012</tspan><tspan x="130">00:52</tspan><tspan x="143">402</tspan><tspan x="157">380</tspan></text>
<text y="68"><tspan x="72">Thanks | Brand</tspan><tspan x="108">1,302</tspan><tspan x="119">1,021</tspan><tspan x="130">00:15</tspan><tspan x="143">12</tspan><tspan x="157">890</tspan></text>
<text y="72.8" class="h"><tspan x="72">Grand total</tspan><tspan x="108">120,412</tspan><tspan x="119">18,221</tspan><tspan x="130">01:03</tspan><tspan x="143">21,212</tspan><tspan x="157">21,212</tspan></text>
</g>
<text y="75.7" class="h"><tspan x="5">Grand total</tspan><tspan x="33">1,304</tspan><tspan x="45">1,068</tspan><tspan x="54">21</tspan><tspan x="61">1.6%</tspan></text>
<text x="5" y="80.8" class="s">Comments</text>
</g>

<!-- Card 14 Conversion by event trend -->
<g transform="translate(188,338)">
<use href="#fr"/><use href="#db"/><use href="#fl"/>
<text x="5.2" y="2.2" class="s">Header text</text>
<text x="3" y="6.8" class="ti">Conversion by event trend</text>
<text x="140" y="5.3" class="s">Last 12 months ▾</text>
<text y="13.4" class="s"><tspan x="7.5">Session default channel group</tspan><tspan x="36">Device category</tspan><tspan x="66">Country</tspan><tspan x="95">Landing page</tspan><tspan x="134">Search</tspan></text>
<text x="124" y="10.6" class="s">Date</text>
<rect x="8.7" y="22" width="2.4" height="1.4" fill="#757575"/><rect x="22" y="22" width="2.4" height="1.4" fill="#e52592"/><rect x="34.7" y="22" width="2.4" height="1.4" fill="#f06292"/><rect x="49.3" y="22" width="2.4" height="1.4" fill="#7cb342"/><rect x="62" y="22" width="2.4" height="1.4" fill="#9334e6"/><rect x="78.7" y="22" width="2.4" height="1.4" fill="#80d8ff"/><rect x="93.7" y="22" width="2.4" height="1.4" fill="#ec6fb6"/><rect x="112" y="22" width="2.4" height="1.4" fill="#4285f4"/><rect x="130.3" y="22" width="2.4" height="1.4" fill="#ffb74d"/><rect x="150.3" y="22" width="2.4" height="1.4" fill="#e8710a"/>
<text y="23.2" class="s" style="font-size:1.2px"><tspan x="11.5">click_tel</tspan><tspan x="24.8">form_submit</tspan><tspan x="37.5">download</tspan><tspan x="52.1">purchase</tspan><tspan x="64.8">file_download_pdf</tspan><tspan x="81.5">sign_up</tspan><tspan x="96.5">click_contact_btn</tspan><tspan x="114.8">generate_lead</tspan><tspan x="133.1">begin_checkout</tspan><tspan x="153.1">login</tspan></text>
<g fill="#eeeeee"><rect x="7" y="25" width="156" height=".3"/><rect x="7" y="32.5" width="156" height=".3"/><rect x="7" y="40" width="156" height=".35" fill="#dddddd"/></g>
<g text-anchor="end" class="s" style="font-size:1.3px"><text x="6.5" y="25.5">2K</text><text x="6.5" y="33">1K</text><text x="6.5" y="40.5">0</text></g>
<use href="#sbC" transform="translate(8.7,40) scale(10,2)"/>
<use href="#sbC" transform="translate(21.57,40) scale(10,2)"/>
<use href="#sbC" transform="translate(34.44,40) scale(10,2.3)"/>
<use href="#sbC" transform="translate(47.31,40) scale(10,2.3)"/>
<use href="#sbC" transform="translate(60.18,40) scale(10,2.3)"/>
<use href="#sbC" transform="translate(73.05,40) scale(10,2.8)"/>
<use href="#sbC" transform="translate(85.92,40) scale(10,2.8)"/>
<use href="#sbC" transform="translate(98.79,40) scale(10,2.8)"/>
<use href="#sbC" transform="translate(111.66,40) scale(10,2.6)"/>
<use href="#sbC" transform="translate(124.53,40) scale(10,2.3)"/>
<use href="#sbC" transform="translate(137.4,40) scale(10,2.4)"/>
<rect x="150.27" y="25.3" width="10" height="3" fill="#f3a6cf"/>
<rect x="150.27" y="28.3" width="10" height="10.8" fill="#e52592"/>
<rect x="150.27" y="39.1" width="10" height=".9" fill="#a1887f"/>
<text y="42" text-anchor="middle" class="s" style="font-size:1.2px"><tspan x="13.7">Dec 2022</tspan><tspan x="26.57">Jan 2023</tspan><tspan x="39.44">Feb 2023</tspan><tspan x="52.31">Mar 2023</tspan><tspan x="65.18">Apr 2023</tspan><tspan x="78.05">May 2023</tspan><tspan x="90.92">Jun 2023</tspan><tspan x="103.79">Jul 2023</tspan><tspan x="116.66">Aug 2023</tspan><tspan x="129.53">Sep 2023</tspan><tspan x="142.4">Oct 2023</tspan><tspan x="155.27">Nov 2023</tspan></text>
<text x="162" y="47.7" text-anchor="end" class="s" style="font-size:1.3px">Sort by: Year Month ▾</text>
<rect x="152" y="52.8" width="11.7" height="2.9" fill="#cdd4f3"/>
<rect x="152" y="55.9" width="11.7" height="3" fill="#b9c5ef"/>
<rect x="152" y="65.2" width="11.7" height="3" fill="#d4daf5"/>
<rect x="152" y="68.3" width="11.7" height="3" fill="#d4daf5"/>
<rect x="2" y="51" width="162" height=".25" fill="#dddddd"/>
<text y="50.3" class="h"><tspan x="3">Event name</tspan><tspan x="14">Dec 2022</tspan><tspan x="26.8">Jan 2023</tspan><tspan x="39.6">Feb 2023</tspan><tspan x="52.4">Mar 2023</tspan><tspan x="65.2">Apr 2023</tspan><tspan x="78">May 2023</tspan><tspan x="90.8">Jun 2023</tspan><tspan x="103.6">Jul 2023</tspan><tspan x="116.4">Aug 2023</tspan><tspan x="129.2">Sep 2023</tspan><tspan x="142">Oct 2023</tspan><tspan x="153">Nov 2023</tspan></text>
<g class="v">
<text y="54.4"><tspan x="3">click_tel</tspan><tspan x="14">102</tspan><tspan x="26.8">98</tspan><tspan x="39.6">121</tspan><tspan x="52.4">118</tspan><tspan x="65.2">120</tspan><tspan x="78">141</tspan><tspan x="90.8">140</tspan><tspan x="103.6">139</tspan><tspan x="116.4">130</tspan><tspan x="129.2">120</tspan><tspan x="142">118</tspan><tspan x="153">401</tspan></text>
<text y="57.5"><tspan x="3">form_submit</tspan><tspan x="14">-</tspan><tspan x="26.8">-</tspan><tspan x="39.6">-</tspan><tspan x="52.4">-</tspan><tspan x="65.2">-</tspan><tspan x="78">-</tspan><tspan x="90.8">-</tspan><tspan x="103.6">-</tspan><tspan x="116.4">-</tspan><tspan x="129.2">-</tspan><tspan x="142">-</tspan><tspan x="153">1,512</tspan></text>
<text y="60.6"><tspan x="3">download</tspan><tspan x="14">41</tspan><tspan x="26.8">40</tspan><tspan x="39.6">52</tspan><tspan x="52.4">50</tspan><tspan x="65.2">49</tspan><tspan x="78">62</tspan><tspan x="90.8">63</tspan><tspan x="103.6">61</tspan><tspan x="116.4">58</tspan><tspan x="129.2">50</tspan><tspan x="142">44</tspan><tspan x="153">40</tspan></text>
<text y="63.7"><tspan x="3">purchase</tspan><tspan x="14">22</tspan><tspan x="26.8">21</tspan><tspan x="39.6">28</tspan><tspan x="52.4">27</tspan><tspan x="65.2">27</tspan><tspan x="78">33</tspan><tspan x="90.8">34</tspan><tspan x="103.6">33</tspan><tspan x="116.4">31</tspan><tspan x="129.2">27</tspan><tspan x="142">24</tspan><tspan x="153">21</tspan></text>
<text y="66.8"><tspan x="3">sign_up</tspan><tspan x="14">12</tspan><tspan x="26.8">11</tspan><tspan x="39.6">14</tspan><tspan x="52.4">14</tspan><tspan x="65.2">13</tspan><tspan x="78">17</tspan><tspan x="90.8">18</tspan><tspan x="103.6">17</tspan><tspan x="116.4">16</tspan><tspan x="129.2">14</tspan><tspan x="142">12</tspan><tspan x="153">110</tspan></text>
<text y="69.9"><tspan x="3">generate_lead</tspan><tspan x="14">-</tspan><tspan x="26.8">-</tspan><tspan x="39.6">-</tspan><tspan x="52.4">-</tspan><tspan x="65.2">-</tspan><tspan x="78">-</tspan><tspan x="90.8">-</tspan><tspan x="103.6">-</tspan><tspan x="116.4">-</tspan><tspan x="129.2">-</tspan><tspan x="142">-</tspan><tspan x="153">98</tspan></text>
<text y="73"><tspan x="3">login</tspan><tspan x="14">5</tspan><tspan x="26.8">4</tspan><tspan x="39.6">6</tspan><tspan x="52.4">6</tspan><tspan x="65.2">6</tspan><tspan x="78">7</tspan><tspan x="90.8">8</tspan><tspan x="103.6">7</tspan><tspan x="116.4">7</tspan><tspan x="129.2">6</tspan><tspan x="142">5</tspan><tspan x="153">5</tspan></text>
<text y="76.3" class="h"><tspan x="3">Grand total</tspan><tspan x="14">182</tspan><tspan x="26.8">174</tspan><tspan x="39.6">221</tspan><tspan x="52.4">215</tspan><tspan x="65.2">215</tspan><tspan x="78">260</tspan><tspan x="90.8">263</tspan><tspan x="103.6">257</tspan><tspan x="116.4">242</tspan><tspan x="129.2">217</tspan><tspan x="142">203</tspan><tspan x="153">2,187</tspan></text>
</g>
<rect x="3" y="78.5" width="160" height="10.5" fill="none" stroke="#e8e8e8" stroke-width=".4"/>
<text x="5" y="81.3" class="s">Comments</text>
</g>

<!-- Card 15 First user default channel group -->
<g transform="translate(366,338)">
<use href="#fr"/><use href="#db"/><use href="#fl"/>
<rect x="3" y="78.7" width="160" height="10" fill="none" stroke="#e8e8e8" stroke-width=".4"/>
<text x="5.2" y="2.2" class="s">Header text</text>
<text x="3" y="6.8" class="ti">First user default channel group (GA4)</text>
<text x="140" y="5.3" class="s">Nov 1 - Nov 30, 2023 ▾</text>
<text y="13.4" class="s"><tspan x="7.5">Session default channel group</tspan><tspan x="36">Device category</tspan><tspan x="66">Country</tspan><tspan x="95">Landing page</tspan><tspan x="134">Search</tspan></text>
<text x="124" y="10.6" class="s">Date</text>
<text x="150" y="16.6" class="s" style="font-size:1.3px">Users (previous period)</text>
<rect x="77.3" y="20.7" width="6" height="31.5" fill="#c8d0f1"/>
<rect x="77.3" y="20.7" width="6" height="3.6" fill="#b7c3ee"/>
<rect x="2" y="19.8" width="162" height=".25" fill="#dddddd"/>
<text y="19.1" class="h"><tspan x="3">First user default…</tspan><tspan x="17">Users</tspan><tspan x="26">%Δ</tspan><tspan x="31">New users</tspan><tspan x="43">%Δ</tspan><tspan x="49">Sessions</tspan><tspan x="60">%Δ</tspan><tspan x="66">Views</tspan><tspan x="77.5">CVR</tspan><tspan x="85">CV</tspan><tspan x="92">%Δ</tspan><tspan x="98">Key ev.</tspan><tspan x="110">Channel</tspan><tspan x="125">Oct</tspan><tspan x="137">Sep</tspan><tspan x="148">Aug</tspan><tspan x="157">Jul</tspan></text>
<g fill="#1d4ad6"><rect x="24" y="20.9" width="3.3" height="1.5"/><rect x="25" y="24.5" width="1.5" height="1.5"/></g>
<g class="v">
<text y="22.3"><tspan x="3">Organic Search</tspan><tspan x="17">6,881</tspan><tspan x="31" class="b">6,881</tspan><tspan x="43">-1.2%</tspan><tspan x="49">7,102</tspan><tspan x="60">-1.0%</tspan><tspan x="66">18,220</tspan><tspan x="85">121</tspan><tspan x="92">2.1%</tspan><tspan x="98">181</tspan><tspan x="110">Organic Search</tspan><tspan x="125">6,990</tspan><tspan x="137">7,110</tspan><tspan x="148">7,211</tspan><tspan x="157">7,140</tspan></text>
<text y="25.85"><tspan x="3">Direct</tspan><tspan x="17">2,990</tspan><tspan x="31" class="b">2,990</tspan><tspan x="43">0.4%</tspan><tspan x="49">3,201</tspan><tspan x="60">0.6%</tspan><tspan x="66">7,441</tspan><tspan x="85">42</tspan><tspan x="92">1.0%</tspan><tspan x="98">60</tspan><tspan x="110">Direct</tspan><tspan x="125">2,970</tspan><tspan x="137">3,002</tspan><tspan x="148">3,100</tspan><tspan x="157">3,050</tspan></text>
<text y="29.4"><tspan x="3">Referral</tspan><tspan x="17">1,822</tspan><tspan x="31">1,822</tspan><tspan x="43">2.2%</tspan><tspan x="49">1,990</tspan><tspan x="60">2.0%</tspan><tspan x="66">4,330</tspan><tspan x="85">36</tspan><tspan x="92">3.1%</tspan><tspan x="98">44</tspan><tspan x="110">Referral</tspan><tspan x="125">1,780</tspan><tspan x="137">1,760</tspan><tspan x="148">1,721</tspan><tspan x="157">1,700</tspan></text>
<text y="32.95"><tspan x="3">Organic Social</tspan><tspan x="17">710</tspan><tspan x="31">710</tspan><tspan x="43">-2.8%</tspan><tspan x="49">760</tspan><tspan x="60">-2.5%</tspan><tspan x="66">1,402</tspan><tspan x="85">5</tspan><tspan x="92">-</tspan><tspan x="98">7</tspan><tspan x="110">Organic Social</tspan><tspan x="125">730</tspan><tspan x="137">771</tspan><tspan x="148">801</tspan><tspan x="157">790</tspan></text>
<text y="36.5"><tspan x="3">Paid Search</tspan><tspan x="17">412</tspan><tspan x="31">412</tspan><tspan x="43">4.1%</tspan><tspan x="49">450</tspan><tspan x="60">4.4%</tspan><tspan x="66">990</tspan><tspan x="85">14</tspan><tspan x="92">5.2%</tspan><tspan x="98">18</tspan><tspan x="110">Paid Search</tspan><tspan x="125">396</tspan><tspan x="137">388</tspan><tspan x="148">371</tspan><tspan x="157">360</tspan></text>
<text y="40.05"><tspan x="3">Email</tspan><tspan x="17">110</tspan><tspan x="31">110</tspan><tspan x="43">0.3%</tspan><tspan x="49">130</tspan><tspan x="60">0.1%</tspan><tspan x="66">310</tspan><tspan x="85">6</tspan><tspan x="92">0.0%</tspan><tspan x="98">8</tspan><tspan x="110">Email</tspan><tspan x="125">109</tspan><tspan x="137">112</tspan><tspan x="148">115</tspan><tspan x="157">108</tspan></text>
<text y="43.6"><tspan x="3">Unassigned</tspan><tspan x="17">322</tspan><tspan x="31">322</tspan><tspan x="43">-0.7%</tspan><tspan x="49">330</tspan><tspan x="60">-0.5%</tspan><tspan x="66">520</tspan><tspan x="85">0</tspan><tspan x="92">-</tspan><tspan x="98">0</tspan><tspan x="110">Unassigned</tspan><tspan x="125">324</tspan><tspan x="137">330</tspan><tspan x="148">338</tspan><tspan x="157">331</tspan></text>
<text y="47.15"><tspan x="3">Display</tspan><tspan x="17">30</tspan><tspan x="31">30</tspan><tspan x="43">-</tspan><tspan x="49">31</tspan><tspan x="60">-</tspan><tspan x="66">40</tspan><tspan x="85">0</tspan><tspan x="92">-</tspan><tspan x="98">0</tspan><tspan x="110">Display</tspan><tspan x="157">8</tspan></text>
<text y="50.7"><tspan x="3">(not set)</tspan><tspan x="17">12</tspan><tspan x="31">0</tspan><tspan x="43">-</tspan><tspan x="49">14</tspan><tspan x="60">-</tspan><tspan x="66">20</tspan><tspan x="85">0</tspan><tspan x="92">-</tspan><tspan x="98">0</tspan><tspan x="110">(not set)</tspan><tspan x="157">10</tspan></text>
<text y="74.4" class="h"><tspan x="3">Grand total</tspan><tspan x="17">13,299</tspan><tspan x="31">13,287</tspan><tspan x="43">-0.6%</tspan><tspan x="49">14,008</tspan><tspan x="60">-0.5%</tspan><tspan x="66">33,273</tspan><tspan x="77.5">1.6%</tspan><tspan x="85">224</tspan><tspan x="92">1.9%</tspan><tspan x="98">318</tspan><tspan x="110">Grand total</tspan><tspan x="125">13,299</tspan><tspan x="137">13,473</tspan><tspan x="148">13,657</tspan><tspan x="157">13,497</tspan></text>
</g>
<text x="5" y="81.5" class="s">Comments</text>
</g>

<!-- Card 16 Users by gender trend -->
<g transform="translate(544,338)">
<use href="#fr"/><use href="#db"/><use href="#fl"/>
<rect x="3" y="78" width="160" height="11" fill="none" stroke="#e8e8e8" stroke-width=".4"/>
<text x="5.2" y="2.2" class="s">Header text</text>
<text x="3" y="6.8" class="ti">Users by gender trend</text>
<text x="140" y="5.3" class="s">Last 12 months ▾</text>
<text y="13.4" class="s"><tspan x="7.5">Session default channel group</tspan><tspan x="36">Device category</tspan><tspan x="66">Country</tspan><tspan x="95">Landing page</tspan><tspan x="134">Search</tspan></text>
<text x="124" y="10.6" class="s">Date</text>
<rect x="7.3" y="22.3" width="2.6" height="1.4" fill="#1a73e8"/><rect x="18.7" y="22.3" width="2.6" height="1.4" fill="#12b5cb"/><rect x="27" y="22.3" width="2.6" height="1.4" fill="#e52592"/>
<text y="23.6" class="s" style="font-size:1.3px"><tspan x="10.4">unknown</tspan><tspan x="21.8">male</tspan><tspan x="30.1">female</tspan></text>
<g fill="#eeeeee"><rect x="8" y="26.3" width="155" height=".3"/><rect x="8" y="30.7" width="155" height=".3"/><rect x="8" y="35" width="155" height=".3"/><rect x="8" y="39.7" width="155" height=".3"/><rect x="8" y="44.7" width="155" height=".35" fill="#dddddd"/></g>
<g text-anchor="end" class="s" style="font-size:1.3px"><text x="7.3" y="26.8">2K</text><text x="7.3" y="31.2">1.5K</text><text x="7.3" y="35.5">1K</text><text x="7.3" y="40.2">500</text><text x="7.3" y="45.2">0</text></g>
<use href="#sbG" transform="translate(8,44.7) scale(10.7,10.7)"/>
<use href="#sbG" transform="translate(20.79,44.7) scale(10.7,10.7)"/>
<use href="#sbG" transform="translate(33.58,44.7) scale(10.7,14)"/>
<use href="#sbG" transform="translate(46.37,44.7) scale(10.7,13.7)"/>
<use href="#sbG" transform="translate(59.16,44.7) scale(10.7,13.7)"/>
<use href="#sbG" transform="translate(71.95,44.7) scale(10.7,17.4)"/>
<use href="#sbG" transform="translate(84.74,44.7) scale(10.7,17.7)"/>
<use href="#sbG" transform="translate(97.53,44.7) scale(10.7,17.4)"/>
<use href="#sbG" transform="translate(110.32,44.7) scale(10.7,16.7)"/>
<use href="#sbG" transform="translate(123.11,44.7) scale(10.7,14.4)"/>
<use href="#sbG" transform="translate(135.9,44.7) scale(10.7,12.4)"/>
<use href="#sbG" transform="translate(148.69,44.7) scale(10.7,10.4)"/>
<text y="46.8" text-anchor="middle" class="s" style="font-size:1.2px"><tspan x="13.35">Dec 2022</tspan><tspan x="26.14">Jan 2023</tspan><tspan x="38.93">Feb 2023</tspan><tspan x="51.72">Mar 2023</tspan><tspan x="64.51">Apr 2023</tspan><tspan x="77.3">May 2023</tspan><tspan x="90.09">Jun 2023</tspan><tspan x="102.88">Jul 2023</tspan><tspan x="115.67">Aug 2023</tspan><tspan x="128.46">Sep 2023</tspan><tspan x="141.25">Oct 2023</tspan><tspan x="154.04">Nov 2023</tspan></text>
<text x="162" y="51.3" text-anchor="end" class="s" style="font-size:1.3px">Sort by: Year Month ▾</text>
<rect x="13" y="56.9" width="150" height="10.4" fill="#eceffb"/>
<rect x="39.6" y="56.9" width="12.8" height="3.5" fill="#c4cdf0"/>
<rect x="78" y="56.9" width="51.2" height="7" fill="#d3daf5"/>
<rect x="2" y="55.4" width="161" height=".25" fill="#dddddd"/>
<text y="54.7" class="h"><tspan x="3">Gender</tspan><tspan x="14">Dec 2022</tspan><tspan x="26.8">Jan 2023</tspan><tspan x="39.6">Feb 2023</tspan><tspan x="52.4">Mar 2023</tspan><tspan x="65.2">Apr 2023</tspan><tspan x="78">May 2023</tspan><tspan x="90.8">Jun 2023</tspan><tspan x="103.6">Jul 2023</tspan><tspan x="116.4">Aug 2023</tspan><tspan x="129.2">Sep 2023</tspan><tspan x="142">Oct 2023</tspan><tspan x="154.8">Nov 2023</tspan></text>
<g class="v">
<text y="58.9"><tspan x="3">unknown</tspan><tspan x="14">3,012</tspan><tspan x="26.8">2,950</tspan><tspan x="39.6">3,880</tspan><tspan x="52.4">3,810</tspan><tspan x="65.2">3,800</tspan><tspan x="78">4,911</tspan><tspan x="90.8">5,002</tspan><tspan x="103.6">4,930</tspan><tspan x="116.4">4,712</tspan><tspan x="129.2">3,930</tspan><tspan x="142">3,441</tspan><tspan x="154.8">2,870</tspan></text>
<text y="62.4"><tspan x="3">male</tspan><tspan x="14">2,401</tspan><tspan x="26.8">2,350</tspan><tspan x="39.6">3,102</tspan><tspan x="52.4">3,040</tspan><tspan x="65.2">3,030</tspan><tspan x="78">3,930</tspan><tspan x="90.8">4,001</tspan><tspan x="103.6">3,940</tspan><tspan x="116.4">3,770</tspan><tspan x="129.2">3,140</tspan><tspan x="142">2,752</tspan><tspan x="154.8">2,290</tspan></text>
<text y="65.9"><tspan x="3">female</tspan><tspan x="14">2,083</tspan><tspan x="26.8">2,033</tspan><tspan x="39.6">2,512</tspan><tspan x="52.4">2,521</tspan><tspan x="65.2">2,467</tspan><tspan x="78">3,270</tspan><tspan x="90.8">3,308</tspan><tspan x="103.6">3,280</tspan><tspan x="116.4">3,106</tspan><tspan x="129.2">2,591</tspan><tspan x="142">2,255</tspan><tspan x="154.8">1,878</tspan></text>
<text y="75.4" class="h"><tspan x="3">Grand total</tspan><tspan x="14">7,496</tspan><tspan x="26.8">7,333</tspan><tspan x="39.6">9,494</tspan><tspan x="52.4">9,371</tspan><tspan x="65.2">9,297</tspan><tspan x="78">12,111</tspan><tspan x="90.8">12,311</tspan><tspan x="103.6">12,150</tspan><tspan x="116.4">11,588</tspan><tspan x="129.2">9,661</tspan><tspan x="142">8,448</tspan><tspan x="154.8">7,038</tspan></text>
</g>
<text x="5" y="81" class="s">Comments</text>
</g>
</svg>
</body></html>
